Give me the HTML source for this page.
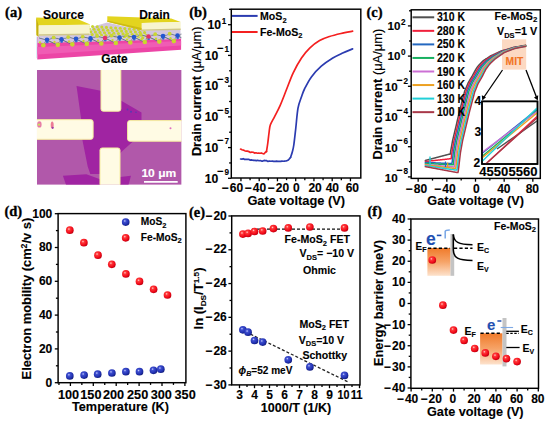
<!DOCTYPE html>
<html><head><meta charset="utf-8"><title>Figure</title>
<style>html,body{margin:0;padding:0;background:#fff;width:550px;height:424px;overflow:hidden}svg{display:block}text{font-family:"Liberation Sans",sans-serif}</style>
</head><body>
<svg width="550" height="424" viewBox="0 0 550 424" font-family="Liberation Sans, sans-serif" font-weight="bold">
<defs>
<radialGradient id="gr" cx="0.38" cy="0.35" r="0.65"><stop offset="0" stop-color="#ffd0d0"/><stop offset="0.25" stop-color="#ff3a3a"/><stop offset="0.75" stop-color="#f00818"/><stop offset="1" stop-color="#c00010"/></radialGradient>
<radialGradient id="gb" cx="0.38" cy="0.35" r="0.65"><stop offset="0" stop-color="#c8d0ff"/><stop offset="0.25" stop-color="#4050d0"/><stop offset="0.75" stop-color="#2030b0"/><stop offset="1" stop-color="#141f80"/></radialGradient>
<linearGradient id="go" x1="0" y1="0" x2="0" y2="1"><stop offset="0" stop-color="#f07a2a"/><stop offset="0.5" stop-color="#f6a468"/><stop offset="1" stop-color="#fde2cc"/></linearGradient>
<clipPath id="clipA"><rect x="30" y="0" width="151.3" height="70"/></clipPath>
<clipPath id="clipM"><rect x="36.9" y="69.9" width="144.7" height="114.9"/></clipPath>
</defs>
<rect width="550" height="424" fill="#fff"/>
<text x="5.1" y="16.6" font-size="14.5" style="font-family:'Liberation Serif'" stroke="#000" stroke-width="0.35">(a)</text>
<g clip-path="url(#clipA)">
<polygon points="36.2,36.5 37.6,36.8 37.6,59.6 36.2,57.5" fill="#d4eef6" stroke="none" stroke-width="0"/>
<polygon points="37.3,36.8 181.3,38.3 181.3,49.8 37.3,59.4" fill="#ec45a6" stroke="none" stroke-width="0"/>
<polygon points="37.3,47 181.3,41 181.3,45.5 37.3,54.5" fill="#f05cb4" stroke="none" stroke-width="0"/>
<polygon points="37.5,35.3 89.7,34.6 92,27 107,22.4 141,30.1 180.5,29.5 180.5,39 100,41.5 37.5,43" fill="#d3c6de" stroke="none" stroke-width="0"/>
<circle cx="88" cy="26.2" r="1.55" fill="#c9d532"/>
<circle cx="92.6" cy="26.5" r="1.55" fill="#c9d532"/>
<circle cx="97.2" cy="26.8" r="1.55" fill="#c9d532"/>
<circle cx="101.8" cy="27.1" r="1.55" fill="#c9d532"/>
<circle cx="106.4" cy="27.4" r="1.55" fill="#c9d532"/>
<circle cx="111" cy="27.7" r="1.55" fill="#c9d532"/>
<circle cx="115.6" cy="27.99" r="1.55" fill="#c9d532"/>
<circle cx="120.2" cy="28.29" r="1.55" fill="#c9d532"/>
<circle cx="124.8" cy="28.59" r="1.55" fill="#c9d532"/>
<circle cx="129.4" cy="28.89" r="1.55" fill="#c9d532"/>
<circle cx="134" cy="29.19" r="1.55" fill="#c9d532"/>
<circle cx="138.6" cy="29.49" r="1.55" fill="#c9d532"/>
<circle cx="143.2" cy="29.79" r="1.55" fill="#c9d532"/>
<circle cx="89.4" cy="28.99" r="1.55" fill="#c9d532"/>
<circle cx="94" cy="29.29" r="1.55" fill="#c9d532"/>
<circle cx="98.6" cy="29.59" r="1.55" fill="#c9d532"/>
<circle cx="103.2" cy="29.89" r="1.55" fill="#c9d532"/>
<circle cx="107.8" cy="30.19" r="1.55" fill="#c9d532"/>
<circle cx="112.4" cy="30.49" r="1.55" fill="#c9d532"/>
<circle cx="117" cy="30.79" r="1.55" fill="#c9d532"/>
<circle cx="121.6" cy="31.08" r="1.55" fill="#c9d532"/>
<circle cx="126.2" cy="31.38" r="1.55" fill="#c9d532"/>
<circle cx="130.8" cy="31.68" r="1.55" fill="#c9d532"/>
<circle cx="135.4" cy="31.98" r="1.55" fill="#c9d532"/>
<circle cx="140" cy="32.28" r="1.55" fill="#c9d532"/>
<circle cx="144.6" cy="32.58" r="1.55" fill="#c9d532"/>
<circle cx="90.8" cy="31.78" r="1.55" fill="#c9d532"/>
<circle cx="95.4" cy="32.08" r="1.55" fill="#c9d532"/>
<circle cx="100" cy="32.38" r="1.55" fill="#c9d532"/>
<circle cx="104.6" cy="32.68" r="1.55" fill="#c9d532"/>
<circle cx="109.2" cy="32.98" r="1.55" fill="#c9d532"/>
<circle cx="113.8" cy="33.28" r="1.55" fill="#c9d532"/>
<circle cx="118.4" cy="33.58" r="1.55" fill="#c9d532"/>
<circle cx="123" cy="33.88" r="1.55" fill="#c9d532"/>
<circle cx="127.6" cy="34.17" r="1.55" fill="#c9d532"/>
<circle cx="132.2" cy="34.47" r="1.55" fill="#c9d532"/>
<circle cx="136.8" cy="34.77" r="1.55" fill="#c9d532"/>
<circle cx="141.4" cy="35.07" r="1.55" fill="#c9d532"/>
<circle cx="146" cy="35.37" r="1.55" fill="#c9d532"/>
<circle cx="92.2" cy="34.57" r="1.55" fill="#c9d532"/>
<circle cx="96.8" cy="34.87" r="1.55" fill="#c9d532"/>
<circle cx="101.4" cy="35.17" r="1.55" fill="#c9d532"/>
<circle cx="106" cy="35.47" r="1.55" fill="#c9d532"/>
<circle cx="110.6" cy="35.77" r="1.55" fill="#c9d532"/>
<circle cx="115.2" cy="36.07" r="1.55" fill="#c9d532"/>
<circle cx="119.8" cy="36.37" r="1.55" fill="#c9d532"/>
<circle cx="124.4" cy="36.67" r="1.55" fill="#c9d532"/>
<circle cx="129" cy="36.96" r="1.55" fill="#c9d532"/>
<circle cx="133.6" cy="37.26" r="1.55" fill="#c9d532"/>
<circle cx="138.2" cy="37.56" r="1.55" fill="#c9d532"/>
<circle cx="142.8" cy="37.86" r="1.55" fill="#c9d532"/>
<circle cx="147.4" cy="38.16" r="1.55" fill="#c9d532"/>
<path d="M43.3,45.29 L47,39.79 L57.8,44.83 M47,39.79 L53.7,37.46 M47,39.79 L39.3,37.92 M57.8,44.83 L61.5,39.33 L72.3,44.36 M61.5,39.33 L68.2,36.99 M61.5,39.33 L53.8,37.45 M72.3,44.36 L76,38.86 L86.8,43.9 M76,38.86 L82.7,36.53 M76,38.86 L68.3,36.99 M86.8,43.9 L90.5,38.4 L101.3,43.43 M90.5,38.4 L97.2,36.07 M90.5,38.4 L82.8,36.53 M101.3,43.43 L105,37.93 L115.8,42.97 M105,37.93 L111.7,35.6 M105,37.93 L97.3,36.06 M115.8,42.97 L119.5,37.47 L130.3,42.51 M119.5,37.47 L126.2,35.14 M119.5,37.47 L111.8,35.6 M130.3,42.51 L134,37.01 L144.8,42.04 M134,37.01 L140.7,34.67 M134,37.01 L126.3,35.13 M144.8,42.04 L148.5,36.54 L159.3,41.58 M148.5,36.54 L155.2,34.21 M148.5,36.54 L140.8,34.67 M159.3,41.58 L163,36.08 L173.8,41.11 M163,36.08 L169.7,33.75 M163,36.08 L155.3,34.21 M173.8,41.11 L177.5,35.61 L188.3,40.65 M177.5,35.61 L184.2,33.28 M177.5,35.61 L169.8,33.74" stroke="#6a6f86" stroke-width="1.3" fill="none"/>
<path d="M43.3,45.29 L47,39.79 L57.8,44.83 M47,39.79 L53.7,37.46 M47,39.79 L39.3,37.92 M57.8,44.83 L61.5,39.33 L72.3,44.36 M61.5,39.33 L68.2,36.99 M61.5,39.33 L53.8,37.45 M72.3,44.36 L76,38.86 L86.8,43.9 M76,38.86 L82.7,36.53 M76,38.86 L68.3,36.99 M86.8,43.9 L90.5,38.4 L101.3,43.43 M90.5,38.4 L97.2,36.07 M90.5,38.4 L82.8,36.53 M101.3,43.43 L105,37.93 L115.8,42.97 M105,37.93 L111.7,35.6 M105,37.93 L97.3,36.06 M115.8,42.97 L119.5,37.47 L130.3,42.51 M119.5,37.47 L126.2,35.14 M119.5,37.47 L111.8,35.6 M130.3,42.51 L134,37.01 L144.8,42.04 M134,37.01 L140.7,34.67 M134,37.01 L126.3,35.13 M144.8,42.04 L148.5,36.54 L159.3,41.58 M148.5,36.54 L155.2,34.21 M148.5,36.54 L140.8,34.67 M159.3,41.58 L163,36.08 L173.8,41.11 M163,36.08 L169.7,33.75 M163,36.08 L155.3,34.21 M173.8,41.11 L177.5,35.61 L188.3,40.65 M177.5,35.61 L184.2,33.28 M177.5,35.61 L169.8,33.74" stroke="#ffffff" stroke-width="0.5" fill="none" transform="translate(0.5,-0.5)"/>
<circle cx="40" cy="42.4" r="1.2" fill="#c9d532"/>
<circle cx="47.25" cy="42.16" r="1.2" fill="#3a6ad6"/>
<circle cx="54.5" cy="41.93" r="1.2" fill="#c9d532"/>
<circle cx="61.75" cy="41.7" r="1.2" fill="#3a6ad6"/>
<circle cx="69" cy="41.47" r="1.2" fill="#c9d532"/>
<circle cx="76.25" cy="41.24" r="1.2" fill="#3a6ad6"/>
<circle cx="83.5" cy="41" r="1.2" fill="#c9d532"/>
<circle cx="90.75" cy="40.77" r="1.2" fill="#3a6ad6"/>
<circle cx="98" cy="40.54" r="1.2" fill="#c9d532"/>
<circle cx="105.25" cy="40.31" r="1.2" fill="#3a6ad6"/>
<circle cx="112.5" cy="40.08" r="1.2" fill="#c9d532"/>
<circle cx="119.75" cy="39.84" r="1.2" fill="#3a6ad6"/>
<circle cx="127" cy="39.61" r="1.2" fill="#c9d532"/>
<circle cx="134.25" cy="39.38" r="1.2" fill="#3a6ad6"/>
<circle cx="141.5" cy="39.15" r="1.2" fill="#c9d532"/>
<circle cx="148.75" cy="38.92" r="1.2" fill="#3a6ad6"/>
<circle cx="156" cy="38.68" r="1.2" fill="#c9d532"/>
<circle cx="163.25" cy="38.45" r="1.2" fill="#3a6ad6"/>
<circle cx="170.5" cy="38.22" r="1.2" fill="#c9d532"/>
<circle cx="177.75" cy="37.99" r="1.2" fill="#3a6ad6"/>
<circle cx="53.7" cy="37.46" r="1.9" fill="#c9d630"/>
<circle cx="47" cy="39.79" r="2.3" fill="#2456d0"/>
<circle cx="43.3" cy="45.29" r="2.3" fill="#c8d82c"/>
<circle cx="68.2" cy="36.99" r="1.9" fill="#c9d630"/>
<circle cx="61.5" cy="39.33" r="2.3" fill="#2456d0"/>
<circle cx="57.8" cy="44.83" r="2.3" fill="#c8d82c"/>
<circle cx="82.7" cy="36.53" r="1.9" fill="#c9d630"/>
<circle cx="76" cy="38.86" r="2.3" fill="#2456d0"/>
<circle cx="72.3" cy="44.36" r="2.3" fill="#c8d82c"/>
<circle cx="97.2" cy="36.07" r="1.9" fill="#c9d630"/>
<circle cx="90.5" cy="38.4" r="2.3" fill="#2456d0"/>
<circle cx="86.8" cy="43.9" r="2.3" fill="#c8d82c"/>
<circle cx="111.7" cy="35.6" r="1.9" fill="#c9d630"/>
<circle cx="105" cy="37.93" r="2.3" fill="#e3306a"/>
<circle cx="101.3" cy="43.43" r="2.3" fill="#c8d82c"/>
<circle cx="126.2" cy="35.14" r="1.9" fill="#c9d630"/>
<circle cx="119.5" cy="37.47" r="2.3" fill="#2456d0"/>
<circle cx="115.8" cy="42.97" r="2.3" fill="#c8d82c"/>
<circle cx="140.7" cy="34.67" r="1.9" fill="#c9d630"/>
<circle cx="134" cy="37.01" r="2.3" fill="#2456d0"/>
<circle cx="130.3" cy="42.51" r="2.3" fill="#c8d82c"/>
<circle cx="155.2" cy="34.21" r="1.9" fill="#c9d630"/>
<circle cx="148.5" cy="36.54" r="2.3" fill="#e3306a"/>
<circle cx="144.8" cy="42.04" r="2.3" fill="#c8d82c"/>
<circle cx="169.7" cy="33.75" r="1.9" fill="#c9d630"/>
<circle cx="163" cy="36.08" r="2.3" fill="#2456d0"/>
<circle cx="159.3" cy="41.58" r="2.3" fill="#c8d82c"/>
<circle cx="177.5" cy="35.61" r="2.3" fill="#2456d0"/>
<circle cx="173.8" cy="41.11" r="2.3" fill="#c8d82c"/>
</g>
<polygon points="36.3,17.6 77.4,19 89.7,24.2 89.7,25 38.6,25.6 38.6,36.6 36.5,35.2" fill="#e3d41e" stroke="none" stroke-width="0"/>
<polygon points="36.3,17.6 38.6,25.6 38.6,36.6 36.5,35.2" fill="#c4b012" stroke="none" stroke-width="0"/>
<polygon points="38.6,25.5 89.7,24.4 89.7,34.6 38.6,35.4" fill="#f7f4cf" stroke="none" stroke-width="0"/>
<polygon points="38.6,34.3 89.7,33.6 89.7,34.9 38.6,35.7" fill="#cfc68a" stroke="none" stroke-width="0"/>
<polygon points="107.3,16.2 171.2,18.6 180.7,22.1 141.8,23.1 141.8,30.2 107.3,21.8" fill="#e3d41e" stroke="none" stroke-width="0"/>
<polygon points="107.3,20.5 141.8,28 141.8,30.2 107.3,21.8" fill="#cdbb14" stroke="none" stroke-width="0"/>
<polygon points="141.8,23.1 180.7,22.1 180.7,29.6 141.8,30.5" fill="#f7f4cf" stroke="none" stroke-width="0"/>
<polygon points="141.8,29.4 180.7,28.6 180.7,29.9 141.8,30.8" fill="#cfc68a" stroke="none" stroke-width="0"/>
<text x="43" y="19.2" font-size="12.1" textLength="41" lengthAdjust="spacingAndGlyphs" stroke="#000" stroke-width="0.12">Source</text>
<text x="139.2" y="19.3" font-size="12" textLength="30.6" lengthAdjust="spacingAndGlyphs" stroke="#000" stroke-width="0.12">Drain</text>
<text x="101.2" y="62.5" font-size="11.9" textLength="26.5" lengthAdjust="spacingAndGlyphs" stroke="#000" stroke-width="0.12">Gate</text>
<g clip-path="url(#clipM)">
<rect x="36.9" y="69.9" width="144.7" height="114.9" fill="#b158aa" stroke="none" stroke-width="0"/>
<polygon points="76.5,86 100.8,90.7 120.8,100.5 141.5,112.5 141.5,121 133.5,140.9 121.8,151.5 110,165 100,174 90.3,174 87.7,166.6 82.5,140.4 81.2,119.5" fill="#a024a2" stroke="none" stroke-width="0"/>
<polygon points="62.9,175.8 86.4,174.2 100.8,179.5 100.8,184.8 66,184.8" fill="#a024a2" stroke="none" stroke-width="0"/>
<polygon points="120,177 131,175.8 128.5,184.8 120,184.8" fill="#a024a2" stroke="none" stroke-width="0"/>
<rect x="101" y="66" width="19.8" height="45.2" rx="2.2" fill="#fffbe4" stroke="#f6eea0" stroke-width="1"/>
<rect x="100" y="148" width="20" height="40" rx="2.2" fill="#fffbe4" stroke="#f6eea0" stroke-width="1"/>
<rect x="33" y="119.7" width="60.1" height="19.6" rx="2.2" fill="#fffbe4" stroke="#f6eea0" stroke-width="1"/>
<rect x="127.6" y="120.6" width="57" height="20.6" rx="2.2" fill="#fffbe4" stroke="#f6eea0" stroke-width="1"/>
<ellipse cx="39.4" cy="124.4" rx="2.2" ry="3.2" fill="#e87aa8"/>
<circle cx="39" cy="124.6" r="1.2" fill="#c8e060"/>
<ellipse cx="52.2" cy="125" rx="1.5" ry="3.6" fill="#ec7c96"/>
<circle cx="52.7" cy="127.8" r="1.1" fill="#9a3aa8"/>
<circle cx="170.5" cy="128.2" r="1" fill="#e070c0"/>
<circle cx="127.5" cy="109.5" r="0.9" fill="#5a3ab0"/>
<circle cx="131" cy="111.8" r="1" fill="#5a3ab0"/>
<circle cx="136" cy="112.3" r="0.8" fill="#5a3ab0"/>
<text x="141.4" y="177.2" font-size="11" fill="#fff" textLength="34.9" lengthAdjust="spacingAndGlyphs" stroke="#fff" stroke-width="0.12">10 μm</text>
<line x1="144" y1="181.9" x2="177.7" y2="181.9" stroke="#fff" stroke-width="1.6"/>
</g>
<text x="189.2" y="16.55" font-size="14.5" style="font-family:'Liberation Serif'" stroke="#000" stroke-width="0.35">(b)</text>
<line x1="228" y1="178.3" x2="231.3" y2="178.3" stroke="#000" stroke-width="1.3"/>
<line x1="229.1" y1="162.94" x2="231.3" y2="162.94" stroke="#000" stroke-width="1.3"/>
<line x1="228" y1="147.58" x2="231.3" y2="147.58" stroke="#000" stroke-width="1.3"/>
<line x1="229.1" y1="132.22" x2="231.3" y2="132.22" stroke="#000" stroke-width="1.3"/>
<line x1="228" y1="116.86" x2="231.3" y2="116.86" stroke="#000" stroke-width="1.3"/>
<line x1="229.1" y1="101.5" x2="231.3" y2="101.5" stroke="#000" stroke-width="1.3"/>
<line x1="228" y1="86.14" x2="231.3" y2="86.14" stroke="#000" stroke-width="1.3"/>
<line x1="229.1" y1="70.78" x2="231.3" y2="70.78" stroke="#000" stroke-width="1.3"/>
<line x1="228" y1="55.42" x2="231.3" y2="55.42" stroke="#000" stroke-width="1.3"/>
<line x1="229.1" y1="40.06" x2="231.3" y2="40.06" stroke="#000" stroke-width="1.3"/>
<line x1="228" y1="24.7" x2="231.3" y2="24.7" stroke="#000" stroke-width="1.3"/>
<line x1="229.1" y1="9.34" x2="231.3" y2="9.34" stroke="#000" stroke-width="1.3"/>
<line x1="240.95" y1="178" x2="240.95" y2="181.3" stroke="#000" stroke-width="1.3"/>
<line x1="250.07" y1="178" x2="250.07" y2="180.2" stroke="#000" stroke-width="1.3"/>
<line x1="259.2" y1="178" x2="259.2" y2="181.3" stroke="#000" stroke-width="1.3"/>
<line x1="268.32" y1="178" x2="268.32" y2="180.2" stroke="#000" stroke-width="1.3"/>
<line x1="277.45" y1="178" x2="277.45" y2="181.3" stroke="#000" stroke-width="1.3"/>
<line x1="286.57" y1="178" x2="286.57" y2="180.2" stroke="#000" stroke-width="1.3"/>
<line x1="295.7" y1="178" x2="295.7" y2="181.3" stroke="#000" stroke-width="1.3"/>
<line x1="304.82" y1="178" x2="304.82" y2="180.2" stroke="#000" stroke-width="1.3"/>
<line x1="313.95" y1="178" x2="313.95" y2="181.3" stroke="#000" stroke-width="1.3"/>
<line x1="323.07" y1="178" x2="323.07" y2="180.2" stroke="#000" stroke-width="1.3"/>
<line x1="332.2" y1="178" x2="332.2" y2="181.3" stroke="#000" stroke-width="1.3"/>
<line x1="341.32" y1="178" x2="341.32" y2="180.2" stroke="#000" stroke-width="1.3"/>
<line x1="350.45" y1="178" x2="350.45" y2="181.3" stroke="#000" stroke-width="1.3"/>
<rect x="231.3" y="9.2" width="129.5" height="168.8" fill="none" stroke="#000" stroke-width="1.45"/>
<text x="207.5" y="29" font-size="12.2" stroke="#000" stroke-width="0.12">10<tspan font-size="8.2" dy="-5.0" dx="0.6">1</tspan></text>
<text x="204.8" y="59.72" font-size="12.2" stroke="#000" stroke-width="0.12">10<tspan font-size="11.22" dy="-7.4" dx="-1.4">−</tspan><tspan font-size="8.2" dx="0.9">1</tspan></text>
<text x="204.8" y="90.44" font-size="12.2" stroke="#000" stroke-width="0.12">10<tspan font-size="11.22" dy="-7.4" dx="-1.4">−</tspan><tspan font-size="8.2" dx="0.9">3</tspan></text>
<text x="204.8" y="121.16" font-size="12.2" stroke="#000" stroke-width="0.12">10<tspan font-size="11.22" dy="-7.4" dx="-1.4">−</tspan><tspan font-size="8.2" dx="0.9">5</tspan></text>
<text x="204.8" y="151.88" font-size="12.2" stroke="#000" stroke-width="0.12">10<tspan font-size="11.22" dy="-7.4" dx="-1.4">−</tspan><tspan font-size="8.2" dx="0.9">7</tspan></text>
<text x="204.8" y="182.6" font-size="12.2" stroke="#000" stroke-width="0.12">10<tspan font-size="11.22" dy="-7.4" dx="-1.4">−</tspan><tspan font-size="8.2" dx="0.9">9</tspan></text>
<text x="221.6" y="192.2" font-size="12" stroke="#000" stroke-width="0.12">−<tspan dx="1.2">60</tspan></text>
<text x="244.5" y="192.2" font-size="12" stroke="#000" stroke-width="0.12">−<tspan dx="1.2">40</tspan></text>
<text x="267.5" y="192.2" font-size="12" stroke="#000" stroke-width="0.12">−<tspan dx="1.2">20</tspan></text>
<text x="292.9" y="192.2" font-size="12" stroke="#000" stroke-width="0.12">0</text>
<text x="308.4" y="192.2" font-size="12" stroke="#000" stroke-width="0.12">20</text>
<text x="325.7" y="192.2" font-size="12" stroke="#000" stroke-width="0.12">40</text>
<text x="345.7" y="192.2" font-size="12" stroke="#000" stroke-width="0.12">60</text>
<text x="296.2" y="204.6" font-size="12.8" text-anchor="middle" textLength="97.6" lengthAdjust="spacingAndGlyphs" stroke="#000" stroke-width="0.12">Gate voltage (V)</text>
<text transform="translate(200.6,91.3) rotate(-90)" font-size="12.6" text-anchor="middle" textLength="129.6" lengthAdjust="spacingAndGlyphs" stroke="#000" stroke-width="0.12">Drain current <tspan font-weight="normal">(μA/μm)</tspan></text>
<line x1="232" y1="15.9" x2="257.6" y2="15.9" stroke="#2b3bb0" stroke-width="2"/>
<line x1="232" y1="32" x2="257.6" y2="32" stroke="#f42020" stroke-width="2"/>
<text x="260" y="20" font-size="10.6" stroke="#000" stroke-width="0.12">MoS<tspan font-size="7.5" dy="2.5">2</tspan></text>
<text x="260" y="35.6" font-size="10.6" stroke="#000" stroke-width="0.12">Fe-MoS<tspan font-size="7.5" dy="2.5">2</tspan></text>
<polyline points="240.6,149.06 241.98,149.79 243.37,150.08 244.75,150.74 246.13,151.21 247.52,151.16 248.9,151.56 250.32,152.46 251.74,152.1 253.16,152.24 254.58,153.09 256,152.77 257.32,153.22 258.63,153.01 259.95,153.28 261.27,152.95 262.58,153.5 263.9,153.83 265.2,152.52 266.5,151.5" fill="none" stroke="#f42020" stroke-width="1.7" stroke-linejoin="round" stroke-linecap="round"/>
<path d="M266.5,151.5 C266.72,150.08 267.38,146.08 267.8,143 C268.22,139.92 268.58,135.98 269,133 C269.42,130.02 269.37,127.83 270.3,125.1 C271.23,122.37 272.95,119.9 274.6,116.6 C276.25,113.3 278.2,109.85 280.2,105.3 C282.2,100.75 284.43,94.72 286.6,89.3 C288.77,83.88 290.72,78.02 293.2,72.8 C295.68,67.58 298.75,62.12 301.5,58 C304.25,53.88 306.68,51 309.7,48.1 C312.72,45.2 316.3,42.53 319.6,40.6 C322.9,38.67 325.93,37.68 329.5,36.5 C333.07,35.32 337.15,34.38 341,33.5 C344.85,32.62 350.67,31.58 352.6,31.2" fill="none" stroke="#f42020" stroke-width="1.7" stroke-linejoin="round" stroke-linecap="round"/>
<polyline points="240.6,159.02 241.94,159.1 243.29,158.69 244.63,159.46 245.97,159.45 247.31,159.34 248.66,159.24 250,160.13 251.28,159.88 252.55,160.2 253.82,160.44 255.1,160.39 256.38,160.68 257.65,160.31 258.93,160.77 260.2,160.55 261.5,161.06 262.8,161.07 264.1,160.44 265.4,160.54 266.7,160.68 268,161.42 269.44,161.02 270.88,161.27 272.32,161.06 273.76,161.33 275.2,161.3 276.56,161.19 277.92,161.32 279.28,161.24 280.64,161.44 282,161.16 283.28,161.25 284.56,161.04 285.84,161.02 287.12,160.59 288.4,160 290.5,157.5" fill="none" stroke="#2b3bb0" stroke-width="1.7" stroke-linejoin="round" stroke-linecap="round"/>
<path d="M290.5,157.5 C290.8,156.58 291.75,154.08 292.3,152 C292.85,149.92 293.22,149 293.8,145 C294.38,141 295.1,134.15 295.8,128 C296.5,121.85 297.05,113.3 298,108.1 C298.95,102.9 300.42,99.98 301.5,96.8 C302.58,93.62 302.85,92.32 304.5,89 C306.15,85.68 308.6,80.7 311.4,76.9 C314.2,73.1 317.73,69.35 321.3,66.2 C324.87,63.05 329.23,60.2 332.8,58 C336.37,55.8 339.4,54.52 342.7,53 C346,51.48 350.95,49.58 352.6,48.9" fill="none" stroke="#2b3bb0" stroke-width="1.7" stroke-linejoin="round" stroke-linecap="round"/>
<text x="366.4" y="16.55" font-size="14.5" style="font-family:'Liberation Serif'" stroke="#000" stroke-width="0.35">(c)</text>
<line x1="407.9" y1="176.9" x2="411.2" y2="176.9" stroke="#000" stroke-width="1.3"/>
<line x1="409" y1="161.8" x2="411.2" y2="161.8" stroke="#000" stroke-width="1.3"/>
<line x1="407.9" y1="146.7" x2="411.2" y2="146.7" stroke="#000" stroke-width="1.3"/>
<line x1="409" y1="131.6" x2="411.2" y2="131.6" stroke="#000" stroke-width="1.3"/>
<line x1="407.9" y1="116.5" x2="411.2" y2="116.5" stroke="#000" stroke-width="1.3"/>
<line x1="409" y1="101.4" x2="411.2" y2="101.4" stroke="#000" stroke-width="1.3"/>
<line x1="407.9" y1="86.3" x2="411.2" y2="86.3" stroke="#000" stroke-width="1.3"/>
<line x1="409" y1="71.2" x2="411.2" y2="71.2" stroke="#000" stroke-width="1.3"/>
<line x1="407.9" y1="56.1" x2="411.2" y2="56.1" stroke="#000" stroke-width="1.3"/>
<line x1="409" y1="41" x2="411.2" y2="41" stroke="#000" stroke-width="1.3"/>
<line x1="407.9" y1="25.9" x2="411.2" y2="25.9" stroke="#000" stroke-width="1.3"/>
<line x1="409" y1="10.8" x2="411.2" y2="10.8" stroke="#000" stroke-width="1.3"/>
<line x1="418.16" y1="178.4" x2="418.16" y2="181.7" stroke="#000" stroke-width="1.3"/>
<line x1="432.5" y1="178.4" x2="432.5" y2="180.6" stroke="#000" stroke-width="1.3"/>
<line x1="446.83" y1="178.4" x2="446.83" y2="181.7" stroke="#000" stroke-width="1.3"/>
<line x1="461.17" y1="178.4" x2="461.17" y2="180.6" stroke="#000" stroke-width="1.3"/>
<line x1="475.5" y1="178.4" x2="475.5" y2="181.7" stroke="#000" stroke-width="1.3"/>
<line x1="489.83" y1="178.4" x2="489.83" y2="180.6" stroke="#000" stroke-width="1.3"/>
<line x1="504.17" y1="178.4" x2="504.17" y2="181.7" stroke="#000" stroke-width="1.3"/>
<line x1="518.5" y1="178.4" x2="518.5" y2="180.6" stroke="#000" stroke-width="1.3"/>
<line x1="532.84" y1="178.4" x2="532.84" y2="181.7" stroke="#000" stroke-width="1.3"/>
<text x="387.5" y="29.5" font-size="11.6" stroke="#000" stroke-width="0.12">10<tspan font-size="8.2" dy="-5.0" dx="0.6">2</tspan></text>
<text x="387.5" y="59.7" font-size="11.6" stroke="#000" stroke-width="0.12">10<tspan font-size="8.2" dy="-5.0" dx="0.6">0</tspan></text>
<text x="384.8" y="91.1" font-size="11.6" stroke="#000" stroke-width="0.12">10<tspan font-size="10.67" dy="-7.4" dx="-1.4">−</tspan><tspan font-size="8.2" dx="0.9">2</tspan></text>
<text x="384.8" y="121.3" font-size="11.6" stroke="#000" stroke-width="0.12">10<tspan font-size="10.67" dy="-7.4" dx="-1.4">−</tspan><tspan font-size="8.2" dx="0.9">4</tspan></text>
<text x="384.8" y="151.5" font-size="11.6" stroke="#000" stroke-width="0.12">10<tspan font-size="10.67" dy="-7.4" dx="-1.4">−</tspan><tspan font-size="8.2" dx="0.9">6</tspan></text>
<text x="384.8" y="181.7" font-size="11.6" stroke="#000" stroke-width="0.12">10<tspan font-size="10.67" dy="-7.4" dx="-1.4">−</tspan><tspan font-size="8.2" dx="0.9">8</tspan></text>
<text x="405.5" y="193.2" font-size="12" stroke="#000" stroke-width="0.12">−<tspan dx="1.2">80</tspan></text>
<text x="434.1" y="193.2" font-size="12" stroke="#000" stroke-width="0.12">−<tspan dx="1.2">40</tspan></text>
<text x="472.9" y="193.2" font-size="12" stroke="#000" stroke-width="0.12">0</text>
<text x="497.2" y="193.2" font-size="12" stroke="#000" stroke-width="0.12">40</text>
<text x="525.7" y="193.2" font-size="12" stroke="#000" stroke-width="0.12">80</text>
<text x="475.6" y="204.6" font-size="12.8" text-anchor="middle" textLength="96.7" lengthAdjust="spacingAndGlyphs" stroke="#000" stroke-width="0.12">Gate voltage (V)</text>
<text transform="translate(381.9,94.15) rotate(-90)" font-size="12.6" text-anchor="middle" textLength="130.7" lengthAdjust="spacingAndGlyphs" stroke="#000" stroke-width="0.12">Drain current <tspan font-weight="normal">(μA/μm)</tspan></text>
<line x1="412.5" y1="17.3" x2="434.2" y2="17.3" stroke="#505050" stroke-width="2"/>
<line x1="412.5" y1="30.85" x2="434.2" y2="30.85" stroke="#f0203c" stroke-width="2"/>
<line x1="412.5" y1="44.4" x2="434.2" y2="44.4" stroke="#2468c0" stroke-width="2"/>
<line x1="412.5" y1="57.95" x2="434.2" y2="57.95" stroke="#18b060" stroke-width="2"/>
<line x1="412.5" y1="71.5" x2="434.2" y2="71.5" stroke="#cc70d4" stroke-width="2"/>
<line x1="412.5" y1="85.05" x2="434.2" y2="85.05" stroke="#eca020" stroke-width="2"/>
<line x1="412.5" y1="98.6" x2="434.2" y2="98.6" stroke="#22d0d8" stroke-width="2"/>
<line x1="412.5" y1="112.15" x2="434.2" y2="112.15" stroke="#a83848" stroke-width="2"/>
<rect x="502" y="39.3" width="24.2" height="30.3" fill="#fcd9c2" stroke="none" stroke-width="0"/>
<text x="505.6" y="64.9" font-size="10.2" fill="#f27424" textLength="17.7" lengthAdjust="spacingAndGlyphs" stroke="#f27424" stroke-width="0.12">MIT</text>
<polyline points="425.33,160.44 425.69,160.35 426.05,160.25 426.41,160.16 426.76,160.07 427.12,159.97 427.48,159.88 427.84,159.78 428.2,159.69 428.56,159.6 428.91,159.5 429.27,159.41 429.63,159.32 429.99,159.22 430.35,159.13 430.71,159.03 431.06,158.94 431.42,158.85 431.78,158.75 432.14,158.66 432.5,158.56 432.86,158.47 433.21,158.38 433.57,158.28 433.93,158.19 434.29,158.1 434.65,158 435.01,157.91 435.36,157.81 435.72,157.72 436.08,157.63 436.44,157.53 436.8,157.44 437.16,157.35 437.51,157.25 437.87,157.16 438.23,157.06 438.59,156.97 438.95,156.88 439.31,156.78 439.67,156.69 440.02,156.6 440.38,156.5 440.74,156.41 441.1,156.31 441.46,156.22 441.82,156.13 442.17,156.03 442.53,155.94 442.89,155.84 443.25,155.75 443.61,155.66 443.97,155.56 444.32,155.47 444.68,155.38 445.04,155.28 445.4,155.19 445.76,155.09 446.12,155 446.47,154.91 446.83,154.81 447.19,154.72 447.55,154.63 447.91,154.53 448.27,154.44 448.62,154.34 448.98,154.25 449.34,154.25 449.7,154.25 450.06,154.25 450.42,152.74 450.77,150.73 451.13,148.71 451.49,146.7 451.85,144.69 452.21,142.67 452.57,140.66 452.92,139.15 453.28,137.64 453.64,136.13 454,134.62 454.36,133.11 454.72,131.6 455.07,130.09 455.43,128.58 455.79,127.07 456.15,125.56 456.51,124.05 456.87,122.54 457.22,121.03 457.58,119.52 457.94,118.01 458.3,116.5 458.66,114.99 459.02,113.48 459.37,111.97 459.73,110.46 460.09,109.06 460.45,107.66 460.81,106.25 461.17,104.85 461.52,103.45 461.88,102.05 462.24,100.65 462.6,99.24 462.96,97.84 463.32,96.44 463.67,95.04 464.03,93.63 464.39,92.23 464.75,90.83 465.11,90 465.47,89.17 465.82,88.34 466.18,87.51 466.54,86.68 466.9,85.85 467.26,85.02 467.62,84.19 467.97,83.36 468.33,82.53 468.69,81.92 469.05,81.31 469.41,80.7 469.77,80.09 470.12,79.48 470.48,78.87 470.84,78.27 471.2,77.66 471.56,77.06 471.92,76.45 472.27,75.84 472.63,75.17 472.99,74.51 473.35,73.85 473.71,73.19 474.07,72.53 474.42,71.88 474.78,71.22 475.14,70.56 475.5,69.9 475.86,69.34 476.22,68.77 476.58,68.2 476.93,67.63 477.29,67.06 477.65,66.53 478.01,66.14 478.37,65.76 478.73,65.37 479.08,64.99 479.44,64.61 479.8,64.22 480.16,63.84 480.52,63.46 480.88,63.08 481.23,62.7 481.59,62.32 481.95,61.94 482.31,61.56 482.67,61.18 483.03,60.85 483.38,60.62 483.74,60.38 484.1,60.15 484.46,59.91 484.82,59.68 485.18,59.45 485.53,59.21 485.89,58.98 486.25,58.75 486.61,58.51 486.97,58.28 487.33,58.04 487.68,57.81 488.04,57.58 488.4,57.34 488.76,57.11 489.12,56.87 489.48,56.64 489.83,56.41 490.19,56.17 490.55,55.95 490.91,55.78 491.27,55.61 491.63,55.44 491.98,55.27 492.34,55.1 492.7,54.94 493.06,54.77 493.42,54.6 493.78,54.43 494.13,54.26 494.49,54.09 494.85,53.92 495.21,53.76 495.57,53.59 495.93,53.42 496.28,53.25 496.64,53.08 497,52.91 497.36,52.75 497.72,52.58 498.08,52.41 498.43,52.24 498.79,52.07 499.15,51.9 499.51,51.73 499.87,51.57 500.23,51.4 500.58,51.23 500.94,51.06 501.3,50.89 501.66,50.79 502.02,50.7 502.38,50.6 502.73,50.51 503.09,50.41 503.45,50.32 503.81,50.23 504.17,50.13 504.53,50.04 504.88,49.94 505.24,49.85 505.6,49.75 505.96,49.66 506.32,49.57 506.68,49.47 507.03,49.38 507.39,49.28 507.75,49.19 508.11,49.08 508.47,48.97 508.83,48.86 509.18,48.74 509.54,48.63 509.9,48.52 510.26,48.41 510.62,48.3 510.98,48.19 511.33,48.08 511.69,47.96 512.05,47.85 512.41,47.74 512.77,47.63 513.13,47.52 513.49,47.41 513.84,47.32 514.2,47.26 514.56,47.21 514.92,47.16 515.28,47.1 515.64,47.05 515.99,46.99 516.35,46.94 516.71,46.88 517.07,46.83 517.43,46.77 517.79,46.72 518.14,46.65 518.5,46.59 518.86,46.52 519.22,46.45 519.58,46.39 519.94,46.32 520.29,46.25 520.65,46.19 521.01,46.12 521.37,46.06 521.73,45.99 522.09,45.92 522.44,45.86 522.8,45.79 523.16,45.73 523.52,45.66 523.88,45.59 524.24,45.53 524.59,45.46 524.95,45.4 525.31,45.36 525.67,45.36" fill="none" stroke="#505050" stroke-width="1.5" stroke-linejoin="round" stroke-linecap="round"/>
<polyline points="425.33,161.5 425.69,161.46 426.05,161.42 426.41,161.38 426.76,161.34 427.12,161.3 427.48,161.26 427.84,161.22 428.2,161.18 428.56,161.14 428.91,161.11 429.27,161.07 429.63,161.03 429.99,160.99 430.35,160.95 430.71,160.91 431.06,160.87 431.42,160.83 431.78,160.79 432.14,160.75 432.5,160.71 432.86,160.67 433.21,160.63 433.57,160.59 433.93,160.56 434.29,160.52 434.65,160.48 435.01,160.44 435.36,160.4 435.72,160.36 436.08,160.32 436.44,160.28 436.8,160.24 437.16,160.2 437.51,160.16 437.87,160.12 438.23,160.08 438.59,160.04 438.95,160.01 439.31,159.97 439.67,159.93 440.02,159.89 440.38,159.85 440.74,159.81 441.1,159.77 441.46,159.73 441.82,159.69 442.17,159.65 442.53,159.61 442.89,159.57 443.25,159.53 443.61,159.49 443.97,159.46 444.32,159.42 444.68,159.38 445.04,159.34 445.4,159.3 445.76,159.26 446.12,159.22 446.47,159.18 446.83,159.14 447.19,159.1 447.55,159.06 447.91,159.02 448.27,158.98 448.62,158.94 448.98,158.91 449.34,158.87 449.7,158.83 450.06,158.79 450.42,158.78 450.77,158.78 451.13,158.78 451.49,155.76 451.85,152.74 452.21,150.73 452.57,148.71 452.92,146.7 453.28,144.69 453.64,142.67 454,140.66 454.36,139.15 454.72,137.64 455.07,136.13 455.43,134.62 455.79,133.11 456.15,131.6 456.51,130.09 456.87,128.58 457.22,127.07 457.58,125.56 457.94,124.05 458.3,122.54 458.66,121.03 459.02,119.52 459.37,118.01 459.73,116.5 460.09,114.99 460.45,113.48 460.81,111.97 461.17,110.46 461.52,109.06 461.88,107.66 462.24,106.25 462.6,104.85 462.96,103.45 463.32,102.05 463.67,100.65 464.03,99.24 464.39,97.84 464.75,96.44 465.11,95.04 465.47,93.63 465.82,92.23 466.18,90.83 466.54,90 466.9,89.17 467.26,88.34 467.62,87.51 467.97,86.68 468.33,85.85 468.69,84.98 469.05,84.11 469.41,83.25 469.77,82.38 470.12,81.79 470.48,81.2 470.84,80.6 471.2,80.01 471.56,79.42 471.92,78.83 472.27,78.23 472.63,77.64 472.99,77.05 473.35,76.46 473.71,75.86 474.07,75.21 474.42,74.57 474.78,73.92 475.14,73.28 475.5,72.63 475.86,72.05 476.22,71.46 476.58,70.88 476.93,70.3 477.29,69.72 477.65,69.14 478.01,68.56 478.37,67.98 478.73,67.4 479.08,66.82 479.44,66.43 479.8,66.04 480.16,65.65 480.52,65.26 480.88,64.87 481.23,64.48 481.59,64.1 481.95,63.71 482.31,63.32 482.67,62.94 483.03,62.58 483.38,62.22 483.74,61.86 484.1,61.5 484.46,61.21 484.82,60.96 485.18,60.71 485.53,60.46 485.89,60.21 486.25,59.96 486.61,59.72 486.97,59.47 487.33,59.22 487.68,58.97 488.04,58.72 488.4,58.47 488.76,58.22 489.12,57.98 489.48,57.73 489.83,57.48 490.19,57.23 490.55,56.98 490.91,56.73 491.27,56.48 491.63,56.27 491.98,56.09 492.34,55.91 492.7,55.73 493.06,55.55 493.42,55.37 493.78,55.19 494.13,55.01 494.49,54.83 494.85,54.65 495.21,54.47 495.57,54.29 495.93,54.11 496.28,53.93 496.64,53.75 497,53.57 497.36,53.39 497.72,53.21 498.08,53.03 498.43,52.85 498.79,52.67 499.15,52.49 499.51,52.31 499.87,52.13 500.23,51.95 500.58,51.77 500.94,51.59 501.3,51.41 501.66,51.23 502.02,51.1 502.38,51 502.73,50.9 503.09,50.8 503.45,50.69 503.81,50.59 504.17,50.49 504.53,50.39 504.88,50.28 505.24,50.18 505.6,50.08 505.96,49.98 506.32,49.87 506.68,49.77 507.03,49.67 507.39,49.57 507.75,49.47 508.11,49.35 508.47,49.24 508.83,49.12 509.18,49.01 509.54,48.89 509.9,48.78 510.26,48.66 510.62,48.55 510.98,48.43 511.33,48.32 511.69,48.2 512.05,48.09 512.41,47.98 512.77,47.86 513.13,47.75 513.49,47.63 513.84,47.52 514.2,47.46 514.56,47.4 514.92,47.34 515.28,47.29 515.64,47.23 515.99,47.17 516.35,47.11 516.71,47.05 517.07,47 517.43,46.94 517.79,46.88 518.14,46.81 518.5,46.75 518.86,46.68 519.22,46.62 519.58,46.55 519.94,46.48 520.29,46.42 520.65,46.35 521.01,46.28 521.37,46.22 521.73,46.15 522.09,46.09 522.44,46.02 522.8,45.95 523.16,45.89 523.52,45.82 523.88,45.76 524.24,45.69 524.59,45.62 524.95,45.56 525.31,45.49 525.67,45.49" fill="none" stroke="#f0203c" stroke-width="1.5" stroke-linejoin="round" stroke-linecap="round"/>
<polyline points="425.33,162.4 425.69,162.42 426.05,162.44 426.41,162.45 426.76,162.47 427.12,162.49 427.48,162.5 427.84,162.52 428.2,162.54 428.56,162.55 428.91,162.57 429.27,162.59 429.63,162.6 429.99,162.62 430.35,162.64 430.71,162.65 431.06,162.67 431.42,162.69 431.78,162.7 432.14,162.72 432.5,162.74 432.86,162.75 433.21,162.77 433.57,162.79 433.93,162.8 434.29,162.82 434.65,162.84 435.01,162.85 435.36,162.87 435.72,162.89 436.08,162.9 436.44,162.92 436.8,162.94 437.16,162.95 437.51,162.97 437.87,162.99 438.23,163 438.59,163.02 438.95,163.04 439.31,163.05 439.67,163.07 440.02,163.09 440.38,163.1 440.74,163.12 441.1,163.14 441.46,163.15 441.82,163.17 442.17,163.19 442.53,163.2 442.89,163.22 443.25,163.24 443.61,163.25 443.97,163.27 444.32,163.29 444.68,163.3 445.04,163.32 445.4,163.34 445.76,163.36 446.12,163.37 446.47,163.39 446.83,163.41 447.19,163.42 447.55,163.44 447.91,163.46 448.27,163.47 448.62,163.49 448.98,163.51 449.34,163.52 449.7,163.54 450.06,163.56 450.42,163.57 450.77,163.59 451.13,163.61 451.49,163.61 451.85,163.61 452.21,161.8 452.57,158.78 452.92,155.76 453.28,152.74 453.64,150.73 454,148.71 454.36,146.7 454.72,144.69 455.07,142.67 455.43,140.66 455.79,139.15 456.15,137.64 456.51,136.13 456.87,134.62 457.22,133.11 457.58,131.6 457.94,130.09 458.3,128.58 458.66,127.07 459.02,125.56 459.37,124.05 459.73,122.54 460.09,121.03 460.45,119.52 460.81,118.01 461.17,116.5 461.52,114.99 461.88,113.48 462.24,111.97 462.6,110.46 462.96,109.06 463.32,107.66 463.67,106.25 464.03,104.85 464.39,103.45 464.75,102.05 465.11,100.65 465.47,99.24 465.82,97.84 466.18,96.44 466.54,95.04 466.9,93.63 467.26,92.23 467.62,90.83 467.97,90 468.33,89.17 468.69,88.32 469.05,87.46 469.41,86.61 469.77,85.76 470.12,84.91 470.48,84.06 470.84,83.21 471.2,82.36 471.56,81.78 471.92,81.2 472.27,80.62 472.63,80.04 472.99,79.47 473.35,78.89 473.71,78.31 474.07,77.73 474.42,77.16 474.78,76.58 475.14,75.99 475.5,75.36 475.86,74.76 476.22,74.16 476.58,73.57 476.93,72.97 477.29,72.38 477.65,71.78 478.01,71.19 478.37,70.59 478.73,70 479.08,69.4 479.44,68.81 479.8,68.21 480.16,67.62 480.52,67.06 480.88,66.66 481.23,66.27 481.59,65.87 481.95,65.48 482.31,65.08 482.67,64.69 483.03,64.31 483.38,63.93 483.74,63.56 484.1,63.18 484.46,62.8 484.82,62.43 485.18,62.05 485.53,61.71 485.89,61.45 486.25,61.18 486.61,60.92 486.97,60.66 487.33,60.39 487.68,60.13 488.04,59.87 488.4,59.6 488.76,59.34 489.12,59.08 489.48,58.81 489.83,58.55 490.19,58.29 490.55,58.02 490.91,57.76 491.27,57.5 491.63,57.23 491.98,56.97 492.34,56.72 492.7,56.53 493.06,56.34 493.42,56.15 493.78,55.96 494.13,55.76 494.49,55.57 494.85,55.38 495.21,55.19 495.57,55 495.93,54.81 496.28,54.61 496.64,54.42 497,54.23 497.36,54.04 497.72,53.85 498.08,53.66 498.43,53.46 498.79,53.27 499.15,53.08 499.51,52.89 499.87,52.7 500.23,52.5 500.58,52.31 500.94,52.12 501.3,51.93 501.66,51.74 502.02,51.55 502.38,51.4 502.73,51.29 503.09,51.18 503.45,51.07 503.81,50.96 504.17,50.85 504.53,50.74 504.88,50.62 505.24,50.51 505.6,50.4 505.96,50.29 506.32,50.18 506.68,50.07 507.03,49.96 507.39,49.85 507.75,49.74 508.11,49.62 508.47,49.51 508.83,49.39 509.18,49.27 509.54,49.15 509.9,49.03 510.26,48.92 510.62,48.8 510.98,48.68 511.33,48.56 511.69,48.44 512.05,48.33 512.41,48.21 512.77,48.09 513.13,47.97 513.49,47.86 513.84,47.74 514.2,47.65 514.56,47.59 514.92,47.53 515.28,47.47 515.64,47.41 515.99,47.35 516.35,47.29 516.71,47.23 517.07,47.16 517.43,47.1 517.79,47.04 518.14,46.98 518.5,46.91 518.86,46.84 519.22,46.78 519.58,46.71 519.94,46.65 520.29,46.58 520.65,46.51 521.01,46.45 521.37,46.38 521.73,46.32 522.09,46.25 522.44,46.18 522.8,46.12 523.16,46.05 523.52,45.98 523.88,45.92 524.24,45.85 524.59,45.79 524.95,45.72 525.31,45.65 525.67,45.63" fill="none" stroke="#2468c0" stroke-width="1.5" stroke-linejoin="round" stroke-linecap="round"/>
<polyline points="425.33,163.46 425.69,163.48 426.05,163.5 426.41,163.51 426.76,163.53 427.12,163.55 427.48,163.57 427.84,163.59 428.2,163.6 428.56,163.62 428.91,163.64 429.27,163.66 429.63,163.68 429.99,163.69 430.35,163.71 430.71,163.73 431.06,163.75 431.42,163.77 431.78,163.78 432.14,163.8 432.5,163.82 432.86,163.84 433.21,163.86 433.57,163.87 433.93,163.89 434.29,163.91 434.65,163.93 435.01,163.95 435.36,163.96 435.72,163.98 436.08,164 436.44,164.02 436.8,164.04 437.16,164.05 437.51,164.07 437.87,164.09 438.23,164.11 438.59,164.13 438.95,164.14 439.31,164.16 439.67,164.18 440.02,164.2 440.38,164.22 440.74,164.23 441.1,164.25 441.46,164.27 441.82,164.29 442.17,164.31 442.53,164.32 442.89,164.34 443.25,164.36 443.61,164.38 443.97,164.4 444.32,164.41 444.68,164.43 445.04,164.45 445.4,164.47 445.76,164.49 446.12,164.5 446.47,164.52 446.83,164.54 447.19,164.56 447.55,164.58 447.91,164.59 448.27,164.61 448.62,164.63 448.98,164.65 449.34,164.67 449.7,164.68 450.06,164.7 450.42,164.72 450.77,164.74 451.13,164.76 451.49,164.77 451.85,164.79 452.21,164.81 452.57,164.82 452.92,164.82 453.28,164.82 453.64,161.8 454,158.78 454.36,155.76 454.72,152.74 455.07,150.73 455.43,148.71 455.79,146.7 456.15,144.69 456.51,142.67 456.87,140.66 457.22,139.15 457.58,137.64 457.94,136.13 458.3,134.62 458.66,133.11 459.02,131.6 459.37,130.09 459.73,128.58 460.09,127.07 460.45,125.56 460.81,124.05 461.17,122.54 461.52,121.03 461.88,119.52 462.24,118.01 462.6,116.5 462.96,114.99 463.32,113.48 463.67,111.97 464.03,110.46 464.39,109.06 464.75,107.66 465.11,106.25 465.47,104.85 465.82,103.45 466.18,102.05 466.54,100.65 466.9,99.24 467.26,97.84 467.62,96.44 467.97,95.04 468.33,93.63 468.69,92.22 469.05,90.82 469.41,89.98 469.77,89.14 470.12,88.3 470.48,87.47 470.84,86.63 471.2,85.79 471.56,84.95 471.92,84.12 472.27,83.28 472.63,82.44 472.99,81.88 473.35,81.31 473.71,80.75 474.07,80.18 474.42,79.62 474.78,79.05 475.14,78.49 475.5,77.92 475.86,77.37 476.22,76.81 476.58,76.25 476.93,75.64 477.29,75.03 477.65,74.42 478.01,73.81 478.37,73.2 478.73,72.59 479.08,71.99 479.44,71.38 479.8,70.77 480.16,70.16 480.52,69.55 480.88,68.94 481.23,68.33 481.59,67.72 481.95,67.25 482.31,66.85 482.67,66.44 483.03,66.05 483.38,65.65 483.74,65.25 484.1,64.86 484.46,64.46 484.82,64.06 485.18,63.67 485.53,63.27 485.89,62.87 486.25,62.48 486.61,62.12 486.97,61.85 487.33,61.57 487.68,61.29 488.04,61.01 488.4,60.74 488.76,60.46 489.12,60.18 489.48,59.9 489.83,59.62 490.19,59.35 490.55,59.07 490.91,58.79 491.27,58.51 491.63,58.23 491.98,57.96 492.34,57.68 492.7,57.4 493.06,57.12 493.42,56.92 493.78,56.72 494.13,56.51 494.49,56.31 494.85,56.11 495.21,55.9 495.57,55.7 495.93,55.5 496.28,55.29 496.64,55.09 497,54.89 497.36,54.68 497.72,54.48 498.08,54.28 498.43,54.08 498.79,53.87 499.15,53.67 499.51,53.47 499.87,53.26 500.23,53.06 500.58,52.86 500.94,52.65 501.3,52.45 501.66,52.25 502.02,52.04 502.38,51.84 502.73,51.68 503.09,51.56 503.45,51.44 503.81,51.32 504.17,51.2 504.53,51.08 504.88,50.97 505.24,50.85 505.6,50.73 505.96,50.61 506.32,50.49 506.68,50.37 507.03,50.25 507.39,50.14 507.75,50.02 508.11,49.9 508.47,49.77 508.83,49.65 509.18,49.53 509.54,49.41 509.9,49.29 510.26,49.17 510.62,49.05 510.98,48.93 511.33,48.81 511.69,48.68 512.05,48.56 512.41,48.44 512.77,48.32 513.13,48.2 513.49,48.08 513.84,47.96 514.2,47.85 514.56,47.78 514.92,47.72 515.28,47.66 515.64,47.59 515.99,47.53 516.35,47.46 516.71,47.4 517.07,47.33 517.43,47.27 517.79,47.2 518.14,47.14 518.5,47.07 518.86,47.01 519.22,46.94 519.58,46.87 519.94,46.81 520.29,46.74 520.65,46.68 521.01,46.61 521.37,46.54 521.73,46.48 522.09,46.41 522.44,46.35 522.8,46.28 523.16,46.21 523.52,46.15 523.88,46.08 524.24,46.02 524.59,45.95 524.95,45.88 525.31,45.82 525.67,45.76" fill="none" stroke="#18b060" stroke-width="1.5" stroke-linejoin="round" stroke-linecap="round"/>
<polyline points="425.33,164.52 425.69,164.55 426.05,164.58 426.41,164.61 426.76,164.64 427.12,164.67 427.48,164.7 427.84,164.73 428.2,164.76 428.56,164.79 428.91,164.82 429.27,164.86 429.63,164.89 429.99,164.92 430.35,164.95 430.71,164.98 431.06,165.01 431.42,165.04 431.78,165.07 432.14,165.1 432.5,165.13 432.86,165.16 433.21,165.19 433.57,165.22 433.93,165.25 434.29,165.28 434.65,165.32 435.01,165.35 435.36,165.38 435.72,165.41 436.08,165.44 436.44,165.47 436.8,165.5 437.16,165.53 437.51,165.56 437.87,165.59 438.23,165.62 438.59,165.65 438.95,165.68 439.31,165.71 439.67,165.74 440.02,165.78 440.38,165.81 440.74,165.84 441.1,165.87 441.46,165.9 441.82,165.93 442.17,165.96 442.53,165.99 442.89,166.02 443.25,166.05 443.61,166.08 443.97,166.11 444.32,166.14 444.68,166.17 445.04,166.2 445.4,166.23 445.76,166.27 446.12,166.3 446.47,166.33 446.83,166.36 447.19,166.39 447.55,166.42 447.91,166.45 448.27,166.48 448.62,166.51 448.98,166.54 449.34,166.57 449.7,166.6 450.06,166.63 450.42,166.66 450.77,166.69 451.13,166.73 451.49,166.76 451.85,166.79 452.21,166.82 452.57,166.85 452.92,166.88 453.28,166.91 453.64,166.93 454,166.93 454.36,166.93 454.72,164.82 455.07,161.8 455.43,158.78 455.79,155.76 456.15,152.74 456.51,150.73 456.87,148.71 457.22,146.7 457.58,144.69 457.94,142.67 458.3,140.66 458.66,139.15 459.02,137.64 459.37,136.13 459.73,134.62 460.09,133.11 460.45,131.6 460.81,130.09 461.17,128.58 461.52,127.07 461.88,125.56 462.24,124.05 462.6,122.54 462.96,121.03 463.32,119.52 463.67,118.01 464.03,116.5 464.39,114.99 464.75,113.48 465.11,111.97 465.47,110.46 465.82,109.06 466.18,107.66 466.54,106.25 466.9,104.85 467.26,103.45 467.62,102.05 467.97,100.65 468.33,99.24 468.69,97.85 469.05,96.45 469.41,95.06 469.77,93.66 470.12,92.27 470.48,90.87 470.84,90.05 471.2,89.22 471.56,88.4 471.92,87.58 472.27,86.75 472.63,85.93 472.99,85.1 473.35,84.28 473.71,83.46 474.07,82.63 474.42,82.08 474.78,81.52 475.14,80.97 475.5,80.42 475.86,79.85 476.22,79.29 476.58,78.72 476.93,78.16 477.29,77.59 477.65,77.03 478.01,76.44 478.37,75.82 478.73,75.19 479.08,74.57 479.44,73.95 479.8,73.32 480.16,72.7 480.52,72.07 480.88,71.45 481.23,70.82 481.59,70.2 481.95,69.57 482.31,68.95 482.67,68.32 483.03,67.78 483.38,67.36 483.74,66.95 484.1,66.53 484.46,66.12 484.82,65.7 485.18,65.28 485.53,64.87 485.89,64.45 486.25,64.03 486.61,63.62 486.97,63.2 487.33,62.79 487.68,62.45 488.04,62.16 488.4,61.87 488.76,61.57 489.12,61.28 489.48,60.99 489.83,60.7 490.19,60.4 490.55,60.11 490.91,59.82 491.27,59.53 491.63,59.23 491.98,58.94 492.34,58.65 492.7,58.36 493.06,58.06 493.42,57.77 493.78,57.48 494.13,57.27 494.49,57.05 494.85,56.84 495.21,56.62 495.57,56.41 495.93,56.19 496.28,55.98 496.64,55.76 497,55.55 497.36,55.33 497.72,55.12 498.08,54.9 498.43,54.69 498.79,54.47 499.15,54.26 499.51,54.04 499.87,53.83 500.23,53.61 500.58,53.4 500.94,53.18 501.3,52.97 501.66,52.75 502.02,52.54 502.38,52.32 502.73,52.11 503.09,51.94 503.45,51.81 503.81,51.69 504.17,51.56 504.53,51.43 504.88,51.31 505.24,51.18 505.6,51.05 505.96,50.93 506.32,50.8 506.68,50.67 507.03,50.55 507.39,50.42 507.75,50.29 508.11,50.17 508.47,50.04 508.83,49.92 509.18,49.79 509.54,49.67 509.9,49.55 510.26,49.42 510.62,49.3 510.98,49.17 511.33,49.05 511.69,48.92 512.05,48.8 512.41,48.68 512.77,48.55 513.13,48.43 513.49,48.3 513.84,48.18 514.2,48.05 514.56,47.98 514.92,47.91 515.28,47.84 515.64,47.77 515.99,47.7 516.35,47.64 516.71,47.57 517.07,47.5 517.43,47.43 517.79,47.37 518.14,47.3 518.5,47.23 518.86,47.17 519.22,47.1 519.58,47.04 519.94,46.97 520.29,46.9 520.65,46.84 521.01,46.77 521.37,46.71 521.73,46.64 522.09,46.57 522.44,46.51 522.8,46.44 523.16,46.38 523.52,46.31 523.88,46.24 524.24,46.18 524.59,46.11 524.95,46.05 525.31,45.98 525.67,45.91" fill="none" stroke="#cc70d4" stroke-width="1.5" stroke-linejoin="round" stroke-linecap="round"/>
<polyline points="425.33,164.97 425.69,165.01 426.05,165.06 426.41,165.1 426.76,165.14 427.12,165.18 427.48,165.23 427.84,165.27 428.2,165.31 428.56,165.35 428.91,165.39 429.27,165.44 429.63,165.48 429.99,165.52 430.35,165.56 430.71,165.61 431.06,165.65 431.42,165.69 431.78,165.73 432.14,165.78 432.5,165.82 432.86,165.86 433.21,165.9 433.57,165.95 433.93,165.99 434.29,166.03 434.65,166.07 435.01,166.11 435.36,166.16 435.72,166.2 436.08,166.24 436.44,166.28 436.8,166.33 437.16,166.37 437.51,166.41 437.87,166.45 438.23,166.5 438.59,166.54 438.95,166.58 439.31,166.62 439.67,166.67 440.02,166.71 440.38,166.75 440.74,166.79 441.1,166.83 441.46,166.88 441.82,166.92 442.17,166.96 442.53,167 442.89,167.05 443.25,167.09 443.61,167.13 443.97,167.17 444.32,167.22 444.68,167.26 445.04,167.3 445.4,167.34 445.76,167.39 446.12,167.43 446.47,167.47 446.83,167.51 447.19,167.55 447.55,167.6 447.91,167.64 448.27,167.68 448.62,167.72 448.98,167.77 449.34,167.81 449.7,167.85 450.06,167.89 450.42,167.94 450.77,167.98 451.13,168.02 451.49,168.06 451.85,168.11 452.21,168.15 452.57,168.19 452.92,168.23 453.28,168.27 453.64,168.32 454,168.36 454.36,168.4 454.72,168.44 455.07,168.44 455.43,168.44 455.79,167.84 456.15,164.82 456.51,161.8 456.87,158.78 457.22,155.76 457.58,152.74 457.94,150.73 458.3,148.71 458.66,146.7 459.02,144.69 459.37,142.67 459.73,140.66 460.09,139.15 460.45,137.64 460.81,136.13 461.17,134.62 461.52,133.11 461.88,131.6 462.24,130.09 462.6,128.58 462.96,127.07 463.32,125.56 463.67,124.05 464.03,122.54 464.39,121.03 464.75,119.52 465.11,118.01 465.47,116.5 465.82,114.99 466.18,113.48 466.54,111.97 466.9,110.46 467.26,109.06 467.62,107.66 467.97,106.25 468.33,104.85 468.69,103.47 469.05,102.09 469.41,100.71 469.77,99.33 470.12,97.95 470.48,96.57 470.84,95.18 471.2,93.8 471.56,92.42 471.92,91.04 472.27,90.23 472.63,89.41 472.99,88.6 473.35,87.79 473.71,86.98 474.07,86.17 474.42,85.35 474.78,84.54 475.14,83.73 475.5,82.91 475.86,82.34 476.22,81.76 476.58,81.18 476.93,80.61 477.29,80.03 477.65,79.45 478.01,78.88 478.37,78.3 478.73,77.72 479.08,77.14 479.44,76.52 479.8,75.88 480.16,75.24 480.52,74.6 480.88,73.96 481.23,73.31 481.59,72.67 481.95,72.03 482.31,71.39 482.67,70.75 483.03,70.09 483.38,69.43 483.74,68.77 484.1,68.21 484.46,67.77 484.82,67.34 485.18,66.9 485.53,66.47 485.89,66.03 486.25,65.59 486.61,65.16 486.97,64.72 487.33,64.29 487.68,63.85 488.04,63.41 488.4,63 488.76,62.69 489.12,62.38 489.48,62.08 489.83,61.77 490.19,61.46 490.55,61.16 490.91,60.85 491.27,60.54 491.63,60.23 491.98,59.93 492.34,59.62 492.7,59.31 493.06,59 493.42,58.7 493.78,58.39 494.13,58.08 494.49,57.79 494.85,57.56 495.21,57.34 495.57,57.11 495.93,56.88 496.28,56.66 496.64,56.43 497,56.2 497.36,55.98 497.72,55.75 498.08,55.52 498.43,55.3 498.79,55.07 499.15,54.85 499.51,54.62 499.87,54.39 500.23,54.17 500.58,53.94 500.94,53.71 501.3,53.49 501.66,53.26 502.02,53.03 502.38,52.81 502.73,52.58 503.09,52.35 503.45,52.19 503.81,52.05 504.17,51.92 504.53,51.78 504.88,51.65 505.24,51.51 505.6,51.38 505.96,51.24 506.32,51.11 506.68,50.97 507.03,50.84 507.39,50.7 507.75,50.57 508.11,50.44 508.47,50.31 508.83,50.19 509.18,50.06 509.54,49.93 509.9,49.8 510.26,49.67 510.62,49.55 510.98,49.42 511.33,49.29 511.69,49.16 512.05,49.04 512.41,48.91 512.77,48.78 513.13,48.65 513.49,48.53 513.84,48.4 514.2,48.27 514.56,48.17 514.92,48.1 515.28,48.03 515.64,47.95 515.99,47.88 516.35,47.81 516.71,47.74 517.07,47.67 517.43,47.6 517.79,47.53 518.14,47.46 518.5,47.4 518.86,47.33 519.22,47.26 519.58,47.2 519.94,47.13 520.29,47.07 520.65,47 521.01,46.93 521.37,46.87 521.73,46.8 522.09,46.74 522.44,46.67 522.8,46.6 523.16,46.54 523.52,46.47 523.88,46.41 524.24,46.34 524.59,46.27 524.95,46.21 525.31,46.14 525.67,46.08" fill="none" stroke="#eca020" stroke-width="1.5" stroke-linejoin="round" stroke-linecap="round"/>
<polyline points="425.33,165.73 425.69,165.78 426.05,165.83 426.41,165.88 426.76,165.93 427.12,165.98 427.48,166.03 427.84,166.09 428.2,166.14 428.56,166.19 428.91,166.24 429.27,166.29 429.63,166.34 429.99,166.39 430.35,166.45 430.71,166.5 431.06,166.55 431.42,166.6 431.78,166.65 432.14,166.7 432.5,166.75 432.86,166.81 433.21,166.86 433.57,166.91 433.93,166.96 434.29,167.01 434.65,167.06 435.01,167.11 435.36,167.17 435.72,167.22 436.08,167.27 436.44,167.32 436.8,167.37 437.16,167.42 437.51,167.47 437.87,167.52 438.23,167.58 438.59,167.63 438.95,167.68 439.31,167.73 439.67,167.78 440.02,167.83 440.38,167.88 440.74,167.94 441.1,167.99 441.46,168.04 441.82,168.09 442.17,168.14 442.53,168.19 442.89,168.24 443.25,168.3 443.61,168.35 443.97,168.4 444.32,168.45 444.68,168.5 445.04,168.55 445.4,168.6 445.76,168.66 446.12,168.71 446.47,168.76 446.83,168.81 447.19,168.86 447.55,168.91 447.91,168.96 448.27,169.02 448.62,169.07 448.98,169.12 449.34,169.17 449.7,169.22 450.06,169.27 450.42,169.32 450.77,169.38 451.13,169.43 451.49,169.48 451.85,169.53 452.21,169.58 452.57,169.63 452.92,169.68 453.28,169.73 453.64,169.79 454,169.84 454.36,169.89 454.72,169.94 455.07,169.99 455.43,170.04 455.79,170.09 456.15,170.11 456.51,170.11 456.87,170.11 457.22,167.84 457.58,164.82 457.94,161.8 458.3,158.78 458.66,155.76 459.02,152.74 459.37,150.73 459.73,148.71 460.09,146.7 460.45,144.69 460.81,142.67 461.17,140.66 461.52,139.15 461.88,137.64 462.24,136.13 462.6,134.62 462.96,133.11 463.32,131.6 463.67,130.09 464.03,128.58 464.39,127.07 464.75,125.56 465.11,124.05 465.47,122.54 465.82,121.03 466.18,119.52 466.54,118.01 466.9,116.5 467.26,114.99 467.62,113.48 467.97,111.97 468.33,110.46 468.69,109.09 469.05,107.73 469.41,106.36 469.77,104.99 470.12,103.63 470.48,102.26 470.84,100.89 471.2,99.52 471.56,98.15 471.92,96.78 472.27,95.41 472.63,94.04 472.99,92.67 473.35,91.3 473.71,90.5 474.07,89.7 474.42,88.9 474.78,88.1 475.14,87.3 475.5,86.49 475.86,85.61 476.22,84.72 476.58,83.84 476.93,83.06 477.29,82.47 477.65,81.88 478.01,81.29 478.37,80.7 478.73,80.11 479.08,79.52 479.44,78.93 479.8,78.34 480.16,77.75 480.52,77.12 480.88,76.46 481.23,75.81 481.59,75.15 481.95,74.49 482.31,73.83 482.67,73.18 483.03,72.49 483.38,71.8 483.74,71.12 484.1,70.43 484.46,69.74 484.82,69.06 485.18,68.52 485.53,68.06 485.89,67.61 486.25,67.15 486.61,66.7 486.97,66.24 487.33,65.79 487.68,65.33 488.04,64.88 488.4,64.42 488.76,63.97 489.12,63.51 489.48,63.16 489.83,62.84 490.19,62.52 490.55,62.2 490.91,61.88 491.27,61.55 491.63,61.23 491.98,60.91 492.34,60.59 492.7,60.27 493.06,59.95 493.42,59.62 493.78,59.3 494.13,58.98 494.49,58.66 494.85,58.34 495.21,58.05 495.57,57.81 495.93,57.58 496.28,57.34 496.64,57.1 497,56.86 497.36,56.62 497.72,56.39 498.08,56.15 498.43,55.91 498.79,55.67 499.15,55.43 499.51,55.2 499.87,54.96 500.23,54.72 500.58,54.48 500.94,54.24 501.3,54.01 501.66,53.77 502.02,53.53 502.38,53.29 502.73,53.05 503.09,52.82 503.45,52.58 503.81,52.42 504.17,52.27 504.53,52.13 504.88,51.99 505.24,51.84 505.6,51.7 505.96,51.56 506.32,51.42 506.68,51.27 507.03,51.13 507.39,50.99 507.75,50.84 508.11,50.71 508.47,50.58 508.83,50.45 509.18,50.32 509.54,50.19 509.9,50.06 510.26,49.93 510.62,49.8 510.98,49.67 511.33,49.54 511.69,49.4 512.05,49.27 512.41,49.14 512.77,49.01 513.13,48.88 513.49,48.75 513.84,48.62 514.2,48.49 514.56,48.36 514.92,48.28 515.28,48.21 515.64,48.14 515.99,48.06 516.35,47.99 516.71,47.91 517.07,47.84 517.43,47.77 517.79,47.69 518.14,47.63 518.5,47.56 518.86,47.49 519.22,47.43 519.58,47.36 519.94,47.29 520.29,47.23 520.65,47.16 521.01,47.1 521.37,47.03 521.73,46.96 522.09,46.9 522.44,46.83 522.8,46.77 523.16,46.7 523.52,46.63 523.88,46.57 524.24,46.5 524.59,46.44 524.95,46.37 525.31,46.3 525.67,46.24" fill="none" stroke="#22d0d8" stroke-width="1.5" stroke-linejoin="round" stroke-linecap="round"/>
<polyline points="425.33,166.63 425.69,166.7 426.05,166.77 426.41,166.83 426.76,166.9 427.12,166.97 427.48,167.03 427.84,167.1 428.2,167.16 428.56,167.23 428.91,167.3 429.27,167.36 429.63,167.43 429.99,167.5 430.35,167.56 430.71,167.63 431.06,167.7 431.42,167.76 431.78,167.83 432.14,167.9 432.5,167.96 432.86,168.03 433.21,168.1 433.57,168.16 433.93,168.23 434.29,168.3 434.65,168.36 435.01,168.43 435.36,168.5 435.72,168.56 436.08,168.63 436.44,168.7 436.8,168.76 437.16,168.83 437.51,168.9 437.87,168.96 438.23,169.03 438.59,169.1 438.95,169.16 439.31,169.23 439.67,169.3 440.02,169.36 440.38,169.43 440.74,169.5 441.1,169.56 441.46,169.63 441.82,169.7 442.17,169.76 442.53,169.83 442.89,169.9 443.25,169.96 443.61,170.03 443.97,170.1 444.32,170.16 444.68,170.23 445.04,170.3 445.4,170.36 445.76,170.43 446.12,170.5 446.47,170.56 446.83,170.63 447.19,170.7 447.55,170.76 447.91,170.83 448.27,170.9 448.62,170.96 448.98,171.03 449.34,171.1 449.7,171.16 450.06,171.23 450.42,171.3 450.77,171.36 451.13,171.43 451.49,171.5 451.85,171.56 452.21,171.63 452.57,171.69 452.92,171.76 453.28,171.83 453.64,171.89 454,171.96 454.36,172.03 454.72,172.09 455.07,172.16 455.43,172.23 455.79,172.29 456.15,172.36 456.51,172.43 456.87,172.49 457.22,172.52 457.58,172.52 457.94,172.52 458.3,170.86 458.66,167.84 459.02,164.82 459.37,161.8 459.73,158.78 460.09,155.76 460.45,152.74 460.81,150.73 461.17,148.71 461.52,146.7 461.88,144.69 462.24,142.67 462.6,140.66 462.96,139.15 463.32,137.64 463.67,136.13 464.03,134.62 464.39,133.11 464.75,131.6 465.11,130.09 465.47,128.58 465.82,127.07 466.18,125.56 466.54,124.05 466.9,122.54 467.26,121.03 467.62,119.52 467.97,118.01 468.33,116.5 468.69,115.04 469.05,113.58 469.41,112.12 469.77,110.66 470.12,109.31 470.48,107.95 470.84,106.6 471.2,105.24 471.56,103.89 471.92,102.53 472.27,101.17 472.63,99.81 472.99,98.46 473.35,97.1 473.71,95.74 474.07,94.38 474.42,93.02 474.78,91.66 475.14,90.87 475.5,90.07 475.86,89.17 476.22,88.26 476.58,87.35 476.93,86.44 477.29,85.53 477.65,84.62 478.01,83.71 478.37,83.1 478.73,82.5 479.08,81.9 479.44,81.29 479.8,80.69 480.16,80.08 480.52,79.48 480.88,78.87 481.23,78.27 481.59,77.63 481.95,76.95 482.31,76.28 482.67,75.6 483.03,74.89 483.38,74.17 483.74,73.46 484.1,72.75 484.46,72.03 484.82,71.32 485.18,70.6 485.53,69.89 485.89,69.19 486.25,68.71 486.61,68.24 486.97,67.76 487.33,67.29 487.68,66.81 488.04,66.34 488.4,65.86 488.76,65.39 489.12,64.91 489.48,64.44 489.83,63.96 490.19,63.58 490.55,63.24 490.91,62.91 491.27,62.57 491.63,62.23 491.98,61.9 492.34,61.56 492.7,61.22 493.06,60.89 493.42,60.55 493.78,60.21 494.13,59.88 494.49,59.54 494.85,59.2 495.21,58.87 495.57,58.53 495.93,58.27 496.28,58.02 496.64,57.77 497,57.52 497.36,57.27 497.72,57.02 498.08,56.77 498.43,56.52 498.79,56.27 499.15,56.02 499.51,55.77 499.87,55.52 500.23,55.27 500.58,55.02 500.94,54.77 501.3,54.52 501.66,54.27 502.02,54.03 502.38,53.78 502.73,53.53 503.09,53.28 503.45,53.03 503.81,52.78 504.17,52.63 504.53,52.48 504.88,52.33 505.24,52.18 505.6,52.03 505.96,51.87 506.32,51.72 506.68,51.57 507.03,51.42 507.39,51.27 507.75,51.12 508.11,50.98 508.47,50.85 508.83,50.72 509.18,50.58 509.54,50.45 509.9,50.31 510.26,50.18 510.62,50.05 510.98,49.91 511.33,49.78 511.69,49.64 512.05,49.51 512.41,49.38 512.77,49.24 513.13,49.11 513.49,48.97 513.84,48.84 514.2,48.71 514.56,48.57 514.92,48.47 515.28,48.4 515.64,48.32 515.99,48.24 516.35,48.16 516.71,48.09 517.07,48.01 517.43,47.93 517.79,47.85 518.14,47.79 518.5,47.72 518.86,47.66 519.22,47.59 519.58,47.52 519.94,47.46 520.29,47.39 520.65,47.33 521.01,47.26 521.37,47.19 521.73,47.13 522.09,47.06 522.44,46.99 522.8,46.93 523.16,46.86 523.52,46.8 523.88,46.73 524.24,46.66 524.59,46.6 524.95,46.53 525.31,46.47 525.67,46.4" fill="none" stroke="#a83848" stroke-width="1.5" stroke-linejoin="round" stroke-linecap="round"/>
<line x1="430" y1="156.5" x2="430" y2="165.4" stroke="#22d0d8" stroke-width="1.4"/>
<line x1="445.5" y1="161.5" x2="445.5" y2="167" stroke="#2468c0" stroke-width="1.2"/>
<line x1="447.7" y1="162.4" x2="447.7" y2="167.7" stroke="#eca020" stroke-width="1.3"/>
<text x="437" y="21.3" font-size="12" textLength="28" lengthAdjust="spacingAndGlyphs" stroke="#000" stroke-width="0.12">310 K</text>
<text x="437" y="34.85" font-size="12" textLength="28" lengthAdjust="spacingAndGlyphs" stroke="#000" stroke-width="0.12">280 K</text>
<text x="437" y="48.4" font-size="12" textLength="28" lengthAdjust="spacingAndGlyphs" stroke="#000" stroke-width="0.12">250 K</text>
<text x="437" y="61.95" font-size="12" textLength="28" lengthAdjust="spacingAndGlyphs" stroke="#000" stroke-width="0.12">220 K</text>
<text x="437" y="75.5" font-size="12" textLength="28" lengthAdjust="spacingAndGlyphs" stroke="#000" stroke-width="0.12">190 K</text>
<text x="437" y="89.05" font-size="12" textLength="28" lengthAdjust="spacingAndGlyphs" stroke="#000" stroke-width="0.12">160 K</text>
<text x="437" y="102.6" font-size="12" textLength="28" lengthAdjust="spacingAndGlyphs" stroke="#000" stroke-width="0.12">130 K</text>
<text x="437" y="116.15" font-size="12" textLength="28" lengthAdjust="spacingAndGlyphs" stroke="#000" stroke-width="0.12">100 K</text>
<line x1="502.5" y1="70" x2="483" y2="98.5" stroke="#000" stroke-width="1.3"/>
<line x1="526" y1="70" x2="537" y2="98.5" stroke="#000" stroke-width="1.3"/>
<polygon points="482.3,100.5 481.8,95.2 486,97.2" fill="#000" stroke="none" stroke-width="0"/>
<polygon points="537.8,100.5 534,97.5 538.2,95.3" fill="#000" stroke="none" stroke-width="0"/>
<rect x="482" y="101.4" width="55.5" height="62.6" fill="#fff" stroke="#000" stroke-width="1.5"/>
<line x1="497" y1="149" x2="537" y2="121" stroke="#505050" stroke-width="1.4"/>
<line x1="488" y1="162" x2="537" y2="116.5" stroke="#f0203c" stroke-width="1.4"/>
<line x1="485" y1="164.5" x2="537" y2="118" stroke="#a83848" stroke-width="1.4"/>
<line x1="482.5" y1="153" x2="537" y2="109.5" stroke="#2468c0" stroke-width="1.4"/>
<line x1="482.5" y1="156" x2="537" y2="110.5" stroke="#18b060" stroke-width="1.4"/>
<line x1="482.5" y1="152" x2="537" y2="111.5" stroke="#cc70d4" stroke-width="1.4"/>
<line x1="482.5" y1="157.5" x2="537" y2="113" stroke="#eca020" stroke-width="1.4"/>
<line x1="482.5" y1="161" x2="537" y2="108" stroke="#22d0d8" stroke-width="1.4"/>
<rect x="482" y="101.4" width="55.5" height="62.6" fill="none" stroke="#000" stroke-width="1.5"/>
<text x="474.4" y="105.3" font-size="12" stroke="#000" stroke-width="0.12">4</text>
<text x="474.4" y="136.1" font-size="12" stroke="#000" stroke-width="0.12">3</text>
<text x="473.6" y="167.3" font-size="12" stroke="#000" stroke-width="0.12">2</text>
<text x="479.3" y="175.7" font-size="12" textLength="58.2" lengthAdjust="spacingAndGlyphs" stroke="#000" stroke-width="0.12">45505560</text>
<rect x="411.2" y="9.8" width="129.1" height="168.6" fill="none" stroke="#000" stroke-width="1.45"/>
<text x="494.4" y="19.5" font-size="10.3" textLength="42.9" lengthAdjust="spacingAndGlyphs" stroke="#000" stroke-width="0.12">Fe-MoS<tspan font-size="7.5" dy="2.5">2</tspan></text>
<text x="497" y="35" font-size="10.8" stroke="#000" stroke-width="0.12">V<tspan font-size="7.5" dy="2.5">DS</tspan><tspan dy="-2.5">=1 V</tspan></text>
<text x="4.4" y="216.45" font-size="14.5" style="font-family:'Liberation Serif'" stroke="#000" stroke-width="0.35">(d)</text>
<line x1="54.8" y1="382.7" x2="58.1" y2="382.7" stroke="#000" stroke-width="1.3"/>
<line x1="55.9" y1="365.8" x2="58.1" y2="365.8" stroke="#000" stroke-width="1.3"/>
<line x1="54.8" y1="348.9" x2="58.1" y2="348.9" stroke="#000" stroke-width="1.3"/>
<line x1="55.9" y1="332" x2="58.1" y2="332" stroke="#000" stroke-width="1.3"/>
<line x1="54.8" y1="315.1" x2="58.1" y2="315.1" stroke="#000" stroke-width="1.3"/>
<line x1="55.9" y1="298.2" x2="58.1" y2="298.2" stroke="#000" stroke-width="1.3"/>
<line x1="54.8" y1="281.3" x2="58.1" y2="281.3" stroke="#000" stroke-width="1.3"/>
<line x1="55.9" y1="264.4" x2="58.1" y2="264.4" stroke="#000" stroke-width="1.3"/>
<line x1="54.8" y1="247.5" x2="58.1" y2="247.5" stroke="#000" stroke-width="1.3"/>
<line x1="55.9" y1="230.6" x2="58.1" y2="230.6" stroke="#000" stroke-width="1.3"/>
<line x1="54.8" y1="213.7" x2="58.1" y2="213.7" stroke="#000" stroke-width="1.3"/>
<line x1="58.95" y1="382.7" x2="58.95" y2="384.9" stroke="#000" stroke-width="1.3"/>
<line x1="70.4" y1="382.7" x2="70.4" y2="386" stroke="#000" stroke-width="1.3"/>
<line x1="81.85" y1="382.7" x2="81.85" y2="384.9" stroke="#000" stroke-width="1.3"/>
<line x1="93.3" y1="382.7" x2="93.3" y2="386" stroke="#000" stroke-width="1.3"/>
<line x1="104.75" y1="382.7" x2="104.75" y2="384.9" stroke="#000" stroke-width="1.3"/>
<line x1="116.2" y1="382.7" x2="116.2" y2="386" stroke="#000" stroke-width="1.3"/>
<line x1="127.65" y1="382.7" x2="127.65" y2="384.9" stroke="#000" stroke-width="1.3"/>
<line x1="139.1" y1="382.7" x2="139.1" y2="386" stroke="#000" stroke-width="1.3"/>
<line x1="150.55" y1="382.7" x2="150.55" y2="384.9" stroke="#000" stroke-width="1.3"/>
<line x1="162" y1="382.7" x2="162" y2="386" stroke="#000" stroke-width="1.3"/>
<line x1="173.45" y1="382.7" x2="173.45" y2="384.9" stroke="#000" stroke-width="1.3"/>
<line x1="184.9" y1="382.7" x2="184.9" y2="386" stroke="#000" stroke-width="1.3"/>
<rect x="58.1" y="213.6" width="127.8" height="169.1" fill="none" stroke="#000" stroke-width="1.45"/>
<text x="52.3" y="386.6" font-size="12" text-anchor="end" stroke="#000" stroke-width="0.12">0</text>
<text x="52.3" y="352.8" font-size="12" text-anchor="end" stroke="#000" stroke-width="0.12">20</text>
<text x="52.3" y="319" font-size="12" text-anchor="end" stroke="#000" stroke-width="0.12">40</text>
<text x="52.3" y="285.2" font-size="12" text-anchor="end" stroke="#000" stroke-width="0.12">60</text>
<text x="52.3" y="251.4" font-size="12" text-anchor="end" stroke="#000" stroke-width="0.12">80</text>
<text x="52.3" y="217.6" font-size="12" text-anchor="end" stroke="#000" stroke-width="0.12">100</text>
<text x="57.9" y="398.5" font-size="12" textLength="21.2" lengthAdjust="spacingAndGlyphs" stroke="#000" stroke-width="0.12">100</text>
<text x="80.3" y="398.5" font-size="12" textLength="21.2" lengthAdjust="spacingAndGlyphs" stroke="#000" stroke-width="0.12">150</text>
<text x="102.9" y="398.5" font-size="12" textLength="21.2" lengthAdjust="spacingAndGlyphs" stroke="#000" stroke-width="0.12">200</text>
<text x="127" y="398.5" font-size="12" textLength="21.2" lengthAdjust="spacingAndGlyphs" stroke="#000" stroke-width="0.12">250</text>
<text x="150.7" y="398.5" font-size="12" textLength="21.2" lengthAdjust="spacingAndGlyphs" stroke="#000" stroke-width="0.12">300</text>
<text x="174.5" y="398.5" font-size="12" textLength="21.2" lengthAdjust="spacingAndGlyphs" stroke="#000" stroke-width="0.12">350</text>
<text x="120.5" y="411" font-size="12.6" text-anchor="middle" textLength="97" lengthAdjust="spacingAndGlyphs" stroke="#000" stroke-width="0.12">Temperature (K)</text>
<text transform="translate(31.2,298.6) rotate(-90)" font-size="12.6" text-anchor="middle" textLength="161.7" lengthAdjust="spacingAndGlyphs" stroke="#000" stroke-width="0.12">Electron mobility (cm<tspan font-size="8.5" dy="-4.5">2</tspan><tspan dy="4.5">/v s)</tspan></text>
<circle cx="125.7" cy="222.1" r="3.85" fill="url(#gb)"/>
<circle cx="125.7" cy="237.8" r="3.85" fill="url(#gr)"/>
<text x="140.8" y="225.2" font-size="10.2" stroke="#000" stroke-width="0.12">MoS<tspan font-size="7.5" dy="2.5">2</tspan></text>
<text x="140.8" y="240.7" font-size="10.2" stroke="#000" stroke-width="0.12">Fe-MoS<tspan font-size="7.5" dy="2.5">2</tspan></text>
<circle cx="69.8" cy="230.2" r="3.85" fill="url(#gr)"/>
<circle cx="83.9" cy="242.7" r="3.85" fill="url(#gr)"/>
<circle cx="98" cy="255.2" r="3.85" fill="url(#gr)"/>
<circle cx="111.8" cy="264.3" r="3.85" fill="url(#gr)"/>
<circle cx="125.9" cy="273.9" r="3.85" fill="url(#gr)"/>
<circle cx="139.5" cy="281.4" r="3.85" fill="url(#gr)"/>
<circle cx="153.6" cy="289.3" r="3.85" fill="url(#gr)"/>
<circle cx="167.5" cy="295" r="3.85" fill="url(#gr)"/>
<circle cx="69.8" cy="375.9" r="3.85" fill="url(#gb)"/>
<circle cx="84.1" cy="375.1" r="3.85" fill="url(#gb)"/>
<circle cx="97.7" cy="374.2" r="3.85" fill="url(#gb)"/>
<circle cx="111.9" cy="373" r="3.85" fill="url(#gb)"/>
<circle cx="125.9" cy="371.7" r="3.85" fill="url(#gb)"/>
<circle cx="139.5" cy="371.7" r="3.85" fill="url(#gb)"/>
<circle cx="153.5" cy="370.3" r="3.85" fill="url(#gb)"/>
<circle cx="160.8" cy="369.2" r="3.85" fill="url(#gb)"/>
<text x="188.9" y="216.55" font-size="14.5" style="font-family:'Liberation Serif'" stroke="#000" stroke-width="0.35">(e)</text>
<line x1="228.4" y1="384.9" x2="231.7" y2="384.9" stroke="#000" stroke-width="1.3"/>
<line x1="229.5" y1="368.01" x2="231.7" y2="368.01" stroke="#000" stroke-width="1.3"/>
<line x1="228.4" y1="351.12" x2="231.7" y2="351.12" stroke="#000" stroke-width="1.3"/>
<line x1="229.5" y1="334.23" x2="231.7" y2="334.23" stroke="#000" stroke-width="1.3"/>
<line x1="228.4" y1="317.34" x2="231.7" y2="317.34" stroke="#000" stroke-width="1.3"/>
<line x1="229.5" y1="300.45" x2="231.7" y2="300.45" stroke="#000" stroke-width="1.3"/>
<line x1="228.4" y1="283.56" x2="231.7" y2="283.56" stroke="#000" stroke-width="1.3"/>
<line x1="229.5" y1="266.67" x2="231.7" y2="266.67" stroke="#000" stroke-width="1.3"/>
<line x1="228.4" y1="249.78" x2="231.7" y2="249.78" stroke="#000" stroke-width="1.3"/>
<line x1="229.5" y1="232.89" x2="231.7" y2="232.89" stroke="#000" stroke-width="1.3"/>
<line x1="228.4" y1="216" x2="231.7" y2="216" stroke="#000" stroke-width="1.3"/>
<line x1="239.5" y1="384.9" x2="239.5" y2="388.2" stroke="#000" stroke-width="1.3"/>
<line x1="254.5" y1="384.9" x2="254.5" y2="388.2" stroke="#000" stroke-width="1.3"/>
<line x1="269.5" y1="384.9" x2="269.5" y2="388.2" stroke="#000" stroke-width="1.3"/>
<line x1="284.5" y1="384.9" x2="284.5" y2="388.2" stroke="#000" stroke-width="1.3"/>
<line x1="299.5" y1="384.9" x2="299.5" y2="388.2" stroke="#000" stroke-width="1.3"/>
<line x1="314.5" y1="384.9" x2="314.5" y2="388.2" stroke="#000" stroke-width="1.3"/>
<line x1="329.5" y1="384.9" x2="329.5" y2="388.2" stroke="#000" stroke-width="1.3"/>
<line x1="344.5" y1="384.9" x2="344.5" y2="388.2" stroke="#000" stroke-width="1.3"/>
<line x1="359.5" y1="384.9" x2="359.5" y2="388.2" stroke="#000" stroke-width="1.3"/>
<line x1="247" y1="384.9" x2="247" y2="387.1" stroke="#000" stroke-width="1.3"/>
<line x1="262" y1="384.9" x2="262" y2="387.1" stroke="#000" stroke-width="1.3"/>
<line x1="277" y1="384.9" x2="277" y2="387.1" stroke="#000" stroke-width="1.3"/>
<line x1="292" y1="384.9" x2="292" y2="387.1" stroke="#000" stroke-width="1.3"/>
<line x1="307" y1="384.9" x2="307" y2="387.1" stroke="#000" stroke-width="1.3"/>
<line x1="322" y1="384.9" x2="322" y2="387.1" stroke="#000" stroke-width="1.3"/>
<line x1="337" y1="384.9" x2="337" y2="387.1" stroke="#000" stroke-width="1.3"/>
<line x1="352" y1="384.9" x2="352" y2="387.1" stroke="#000" stroke-width="1.3"/>
<rect x="231.7" y="215.9" width="128.3" height="169" fill="none" stroke="#000" stroke-width="1.45"/>
<text x="226.8" y="388.5" font-size="12" text-anchor="end" stroke="#000" stroke-width="0.12">−<tspan dx="1.2">30</tspan></text>
<text x="226.8" y="354.72" font-size="12" text-anchor="end" stroke="#000" stroke-width="0.12">−<tspan dx="1.2">28</tspan></text>
<text x="226.8" y="320.94" font-size="12" text-anchor="end" stroke="#000" stroke-width="0.12">−<tspan dx="1.2">26</tspan></text>
<text x="226.8" y="287.16" font-size="12" text-anchor="end" stroke="#000" stroke-width="0.12">−<tspan dx="1.2">24</tspan></text>
<text x="226.8" y="253.38" font-size="12" text-anchor="end" stroke="#000" stroke-width="0.12">−<tspan dx="1.2">22</tspan></text>
<text x="226.8" y="219.6" font-size="12" text-anchor="end" stroke="#000" stroke-width="0.12">−<tspan dx="1.2">20</tspan></text>
<text x="239.5" y="399" font-size="12" text-anchor="middle" stroke="#000" stroke-width="0.12">3</text>
<text x="254.5" y="399" font-size="12" text-anchor="middle" stroke="#000" stroke-width="0.12">4</text>
<text x="269.5" y="399" font-size="12" text-anchor="middle" stroke="#000" stroke-width="0.12">5</text>
<text x="284.5" y="399" font-size="12" text-anchor="middle" stroke="#000" stroke-width="0.12">6</text>
<text x="299.5" y="399" font-size="12" text-anchor="middle" stroke="#000" stroke-width="0.12">7</text>
<text x="314.5" y="399" font-size="12" text-anchor="middle" stroke="#000" stroke-width="0.12">8</text>
<text x="329.5" y="399" font-size="12" text-anchor="middle" stroke="#000" stroke-width="0.12">9</text>
<text x="337.6" y="399" font-size="12" textLength="12" lengthAdjust="spacingAndGlyphs" stroke="#000" stroke-width="0.12">10</text>
<text x="350.7" y="399" font-size="12" textLength="12" lengthAdjust="spacingAndGlyphs" stroke="#000" stroke-width="0.12">11</text>
<text x="296" y="411.9" font-size="12.6" text-anchor="middle" textLength="70.5" lengthAdjust="spacingAndGlyphs" stroke="#000" stroke-width="0.12">1000/T (1/K)</text>
<text transform="translate(203,298.5) rotate(-90)" font-size="12.6" text-anchor="middle" textLength="62" lengthAdjust="spacingAndGlyphs" stroke="#000" stroke-width="0.12">ln (I<tspan font-size="8" dy="2.5">DS</tspan><tspan dy="-2.5">/T</tspan><tspan font-size="8" dy="-4.5">1.5</tspan><tspan dy="4.5">)</tspan></text>
<line x1="252" y1="229.1" x2="347.8" y2="229.1" stroke="#111" stroke-width="1.3" stroke-dasharray="3,2"/>
<line x1="241.5" y1="329.8" x2="347.8" y2="381.8" stroke="#222" stroke-width="1.3" stroke-dasharray="3,2"/>
<circle cx="242.89" cy="234.1" r="3.85" fill="url(#gr)"/>
<circle cx="248.07" cy="233.4" r="3.85" fill="url(#gr)"/>
<circle cx="254.5" cy="231.5" r="3.85" fill="url(#gr)"/>
<circle cx="262.68" cy="231" r="3.85" fill="url(#gr)"/>
<circle cx="273.45" cy="228.6" r="3.85" fill="url(#gr)"/>
<circle cx="288.25" cy="227.9" r="3.85" fill="url(#gr)"/>
<circle cx="309.88" cy="227" r="3.85" fill="url(#gr)"/>
<circle cx="344.5" cy="227.9" r="3.85" fill="url(#gr)"/>
<circle cx="242.89" cy="329.8" r="3.85" fill="url(#gb)"/>
<circle cx="248.07" cy="332.2" r="3.85" fill="url(#gb)"/>
<circle cx="254.5" cy="340.5" r="3.85" fill="url(#gb)"/>
<circle cx="262.68" cy="342.1" r="3.85" fill="url(#gb)"/>
<circle cx="288.25" cy="359.8" r="3.85" fill="url(#gb)"/>
<circle cx="309.88" cy="366.9" r="3.85" fill="url(#gb)"/>
<circle cx="344.5" cy="375.4" r="3.85" fill="url(#gb)"/>
<text x="284.6" y="243" font-size="10.6" stroke="#000" stroke-width="0.12">Fe-MoS<tspan font-size="7.5" dy="2.5">2</tspan><tspan dy="-2.5"> FET</tspan></text>
<text x="299.5" y="257.2" font-size="10.6" stroke="#000" stroke-width="0.12">V<tspan font-size="7.5" dy="2.5">DS</tspan><tspan dy="-2.5">= −10 V</tspan></text>
<text x="303" y="274.2" font-size="10.6" stroke="#000" stroke-width="0.12">Ohmic</text>
<text x="299.4" y="327.5" font-size="10.6" stroke="#000" stroke-width="0.12">MoS<tspan font-size="7.5" dy="2.5">2</tspan><tspan dy="-2.5"> FET</tspan></text>
<text x="298.7" y="343.5" font-size="10.6" stroke="#000" stroke-width="0.12">V<tspan font-size="7.5" dy="2.5">DS</tspan><tspan dy="-2.5">=10 V</tspan></text>
<text x="302.4" y="358.7" font-size="10.6" stroke="#000" stroke-width="0.12">Schottky</text>
<text x="238.6" y="373.6" font-size="10.6" textLength="53.8" lengthAdjust="spacingAndGlyphs" stroke="#000" stroke-width="0.12"><tspan font-style="italic">ϕ</tspan><tspan font-size="7.5" dy="2.5" font-style="italic">B</tspan><tspan dy="-2.5">=52 meV</tspan></text>
<text x="367.5" y="216.25" font-size="14.5" style="font-family:'Liberation Serif'" stroke="#000" stroke-width="0.35">(f)</text>
<line x1="407.6" y1="388" x2="410.9" y2="388" stroke="#000" stroke-width="1.3"/>
<line x1="408.7" y1="377.44" x2="410.9" y2="377.44" stroke="#000" stroke-width="1.3"/>
<line x1="407.6" y1="366.88" x2="410.9" y2="366.88" stroke="#000" stroke-width="1.3"/>
<line x1="408.7" y1="356.31" x2="410.9" y2="356.31" stroke="#000" stroke-width="1.3"/>
<line x1="407.6" y1="345.75" x2="410.9" y2="345.75" stroke="#000" stroke-width="1.3"/>
<line x1="408.7" y1="335.19" x2="410.9" y2="335.19" stroke="#000" stroke-width="1.3"/>
<line x1="407.6" y1="324.62" x2="410.9" y2="324.62" stroke="#000" stroke-width="1.3"/>
<line x1="408.7" y1="314.06" x2="410.9" y2="314.06" stroke="#000" stroke-width="1.3"/>
<line x1="407.6" y1="303.5" x2="410.9" y2="303.5" stroke="#000" stroke-width="1.3"/>
<line x1="408.7" y1="292.94" x2="410.9" y2="292.94" stroke="#000" stroke-width="1.3"/>
<line x1="407.6" y1="282.38" x2="410.9" y2="282.38" stroke="#000" stroke-width="1.3"/>
<line x1="408.7" y1="271.81" x2="410.9" y2="271.81" stroke="#000" stroke-width="1.3"/>
<line x1="407.6" y1="261.25" x2="410.9" y2="261.25" stroke="#000" stroke-width="1.3"/>
<line x1="408.7" y1="250.69" x2="410.9" y2="250.69" stroke="#000" stroke-width="1.3"/>
<line x1="407.6" y1="240.12" x2="410.9" y2="240.12" stroke="#000" stroke-width="1.3"/>
<line x1="408.7" y1="229.56" x2="410.9" y2="229.56" stroke="#000" stroke-width="1.3"/>
<line x1="407.6" y1="219" x2="410.9" y2="219" stroke="#000" stroke-width="1.3"/>
<line x1="411.1" y1="388.3" x2="411.1" y2="391.6" stroke="#000" stroke-width="1.3"/>
<line x1="421.7" y1="388.3" x2="421.7" y2="390.5" stroke="#000" stroke-width="1.3"/>
<line x1="432.3" y1="388.3" x2="432.3" y2="391.6" stroke="#000" stroke-width="1.3"/>
<line x1="442.9" y1="388.3" x2="442.9" y2="390.5" stroke="#000" stroke-width="1.3"/>
<line x1="453.5" y1="388.3" x2="453.5" y2="391.6" stroke="#000" stroke-width="1.3"/>
<line x1="464.1" y1="388.3" x2="464.1" y2="390.5" stroke="#000" stroke-width="1.3"/>
<line x1="474.7" y1="388.3" x2="474.7" y2="391.6" stroke="#000" stroke-width="1.3"/>
<line x1="485.3" y1="388.3" x2="485.3" y2="390.5" stroke="#000" stroke-width="1.3"/>
<line x1="495.9" y1="388.3" x2="495.9" y2="391.6" stroke="#000" stroke-width="1.3"/>
<line x1="506.5" y1="388.3" x2="506.5" y2="390.5" stroke="#000" stroke-width="1.3"/>
<line x1="517.1" y1="388.3" x2="517.1" y2="391.6" stroke="#000" stroke-width="1.3"/>
<line x1="527.7" y1="388.3" x2="527.7" y2="390.5" stroke="#000" stroke-width="1.3"/>
<line x1="538.3" y1="388.3" x2="538.3" y2="391.6" stroke="#000" stroke-width="1.3"/>
<rect x="410.9" y="219" width="127.6" height="169.3" fill="none" stroke="#000" stroke-width="1.45"/>
<text x="405.4" y="391.9" font-size="12" text-anchor="end" stroke="#000" stroke-width="0.12">−<tspan dx="1.2">40</tspan></text>
<text x="405.4" y="370.77" font-size="12" text-anchor="end" stroke="#000" stroke-width="0.12">−<tspan dx="1.2">30</tspan></text>
<text x="405.4" y="349.65" font-size="12" text-anchor="end" stroke="#000" stroke-width="0.12">−<tspan dx="1.2">20</tspan></text>
<text x="405.4" y="328.52" font-size="12" text-anchor="end" stroke="#000" stroke-width="0.12">−<tspan dx="1.2">10</tspan></text>
<text x="405.4" y="307.4" font-size="12" text-anchor="end" stroke="#000" stroke-width="0.12">0</text>
<text x="405.4" y="286.27" font-size="12" text-anchor="end" stroke="#000" stroke-width="0.12">10</text>
<text x="405.4" y="265.15" font-size="12" text-anchor="end" stroke="#000" stroke-width="0.12">20</text>
<text x="405.4" y="244.03" font-size="12" text-anchor="end" stroke="#000" stroke-width="0.12">30</text>
<text x="405.4" y="222.9" font-size="12" text-anchor="end" stroke="#000" stroke-width="0.12">40</text>
<text x="396.7" y="403.2" font-size="12" stroke="#000" stroke-width="0.12">−<tspan dx="1.2">40</tspan></text>
<text x="420.4" y="403.2" font-size="12" stroke="#000" stroke-width="0.12">−<tspan dx="1.2">20</tspan></text>
<text x="449.4" y="403.2" font-size="12" stroke="#000" stroke-width="0.12">0</text>
<text x="467.4" y="403.2" font-size="12" stroke="#000" stroke-width="0.12">20</text>
<text x="488.7" y="403.2" font-size="12" stroke="#000" stroke-width="0.12">40</text>
<text x="509.9" y="403.2" font-size="12" stroke="#000" stroke-width="0.12">60</text>
<text x="531.2" y="403.2" font-size="12" stroke="#000" stroke-width="0.12">80</text>
<text x="475.3" y="416.1" font-size="12.8" text-anchor="middle" textLength="96.6" lengthAdjust="spacingAndGlyphs" stroke="#000" stroke-width="0.12">Gate voltage (V)</text>
<text transform="translate(383.3,303) rotate(-90)" font-size="12.6" text-anchor="middle" textLength="125.8" lengthAdjust="spacingAndGlyphs" stroke="#000" stroke-width="0.12">Energy barrier (meV)</text>
<text x="494" y="229.7" font-size="10" textLength="42" lengthAdjust="spacingAndGlyphs" stroke="#000" stroke-width="0.12">Fe-MoS<tspan font-size="7.2" dy="2.4">2</tspan></text>
<rect x="427.4" y="248" width="23.1" height="27.8" fill="url(#go)"/>
<rect x="450.5" y="234" width="3.7" height="41.8" fill="#c4c4c4"/>
<line x1="428" y1="248.2" x2="450" y2="248.2" stroke="#000" stroke-width="1.5" stroke-dasharray="3.2,2.2"/>
<line x1="454" y1="248.2" x2="472.5" y2="248.2" stroke="#000" stroke-width="1.5" stroke-dasharray="3.2,2.2"/>
<path d="M453.3,234.5 C454,242 458,244.8 472.5,244.8" fill="none" stroke="#000" stroke-width="1.5"/>
<path d="M453.3,234.5 L453.3,250 C453.5,258 458,260.4 472.5,260.4" fill="none" stroke="#000" stroke-width="1.5"/>
<text x="415.5" y="249.6" font-size="10" stroke="#000" stroke-width="0.12">E<tspan font-size="7" dy="2">F</tspan></text>
<text x="425.9" y="245" font-size="17.5" fill="#1f4fb2" stroke="#1f4fb2" stroke-width="0.12">e</text>
<line x1="436.8" y1="235.4" x2="441.4" y2="235.4" stroke="#1f4fb2" stroke-width="1.6"/>
<path d="M445.2,238.4 L445.2,231.2 Q445.6,230 449.8,229.9" fill="none" stroke="#78a6e6" stroke-width="1.5"/>
<text x="477" y="251" font-size="10.5" stroke="#000" stroke-width="0.12">E<tspan font-size="7" dy="2">C</tspan></text>
<text x="477" y="269.5" font-size="10.5" stroke="#000" stroke-width="0.12">E<tspan font-size="7" dy="2">V</tspan></text>
<rect x="480.1" y="333.3" width="22.4" height="31.2" fill="url(#go)"/>
<rect x="502.5" y="318" width="4" height="48.4" fill="#c4c4c4"/>
<line x1="480.5" y1="333.3" x2="502" y2="333.3" stroke="#000" stroke-width="1.5" stroke-dasharray="3.2,2.2"/>
<line x1="500.7" y1="327.5" x2="513.1" y2="327.5" stroke="#7ea9e4" stroke-width="1.1"/>
<line x1="506.3" y1="331.3" x2="518.9" y2="331.3" stroke="#000" stroke-width="1.3"/>
<line x1="506.3" y1="333.4" x2="518.9" y2="333.4" stroke="#000" stroke-width="1.3" stroke-dasharray="2.4,1.6"/>
<line x1="506.3" y1="347.5" x2="519.6" y2="347.5" stroke="#000" stroke-width="1.3"/>
<text x="464.4" y="335" font-size="10.5" stroke="#000" stroke-width="0.12">E<tspan font-size="7" dy="2">F</tspan></text>
<text x="520.8" y="333.3" font-size="10.5" stroke="#000" stroke-width="0.12">E<tspan font-size="7" dy="2">C</tspan></text>
<text x="522.5" y="352.2" font-size="10.5" stroke="#000" stroke-width="0.12">E<tspan font-size="7" dy="2">V</tspan></text>
<text x="486.9" y="329.7" font-size="15" fill="#1f4fb2" stroke="#1f4fb2" stroke-width="0.12">e</text>
<line x1="497.4" y1="321" x2="501.4" y2="321" stroke="#1f4fb2" stroke-width="1.5"/>
<circle cx="432.3" cy="259.98" r="3.85" fill="url(#gr)"/>
<circle cx="442.9" cy="305.19" r="3.85" fill="url(#gr)"/>
<circle cx="453.5" cy="330.12" r="3.85" fill="url(#gr)"/>
<circle cx="464.1" cy="340.47" r="3.85" fill="url(#gr)"/>
<circle cx="474.7" cy="348.5" r="3.85" fill="url(#gr)"/>
<circle cx="485.3" cy="352.93" r="3.85" fill="url(#gr)"/>
<circle cx="495.9" cy="356.31" r="3.85" fill="url(#gr)"/>
<circle cx="506.5" cy="358.64" r="3.85" fill="url(#gr)"/>
<circle cx="517.1" cy="361.59" r="3.85" fill="url(#gr)"/>
</svg>
</body></html>
